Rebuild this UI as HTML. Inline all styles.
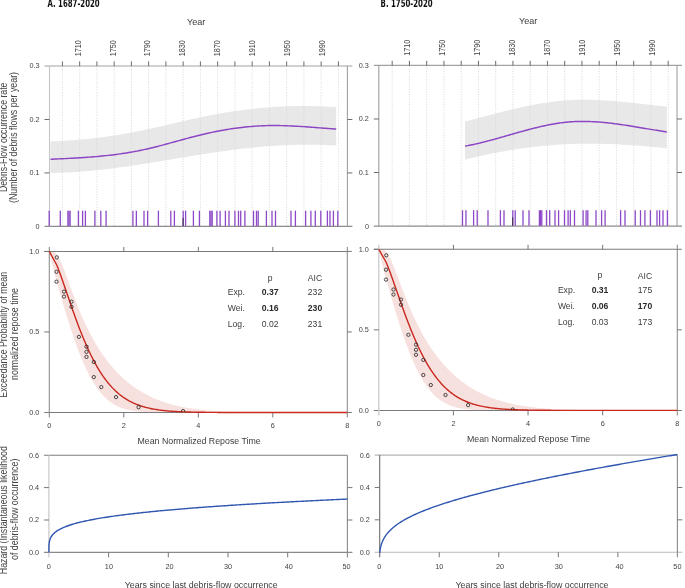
<!DOCTYPE html>
<html><head><meta charset="utf-8"><style>
html,body{margin:0;padding:0;background:#fff;}
body{width:685px;height:588px;overflow:hidden;}
svg{display:block;}
</style></head><body>
<svg width="685" height="588" viewBox="0 0 685 588" font-family='"Liberation Sans", Arial, Helvetica, sans-serif' fill="#3c3c3c">
<rect width="685" height="588" fill="#fff"/>
<text x="47.5" y="6.9" font-size="9.6" fill="#111" font-weight="bold" textLength="52.2" lengthAdjust="spacingAndGlyphs" font-family='"DejaVu Sans", "Liberation Sans", sans-serif' font-stretch="condensed">A. 1687-2020</text>
<text x="380.6" y="6.9" font-size="9.6" fill="#111" font-weight="bold" textLength="52" lengthAdjust="spacingAndGlyphs" font-family='"DejaVu Sans", "Liberation Sans", sans-serif' font-stretch="condensed">B. 1750-2020</text>
<text x="196.2" y="24.9" font-size="9.6" text-anchor="middle" textLength="18.3" lengthAdjust="spacingAndGlyphs" >Year</text>
<text x="528.1" y="24.1" font-size="9.6" text-anchor="middle" textLength="18.2" lengthAdjust="spacingAndGlyphs" >Year</text>
<path d="M50.5,141.44 L52.56,141.37 L54.61,141.29 L56.67,141.2 L58.72,141.1 L60.78,141 L62.83,140.89 L64.89,140.77 L66.94,140.64 L69,140.5 L71.05,140.35 L73.11,140.2 L75.16,140.04 L77.22,139.87 L79.28,139.69 L81.33,139.5 L83.39,139.31 L85.44,139.1 L87.5,138.89 L89.55,138.67 L91.61,138.44 L93.66,138.21 L95.72,137.96 L97.77,137.71 L99.83,137.45 L101.88,137.18 L103.94,136.91 L106,136.63 L108.05,136.33 L110.11,136.04 L112.16,135.73 L114.22,135.41 L116.27,135.09 L118.33,134.76 L120.38,134.43 L122.44,134.08 L124.49,133.73 L126.55,133.37 L128.61,133 L130.66,132.62 L132.72,132.24 L134.77,131.85 L136.83,131.45 L138.88,131.05 L140.94,130.64 L142.99,130.22 L145.05,129.79 L147.1,129.36 L149.16,128.92 L151.21,128.47 L153.27,128.02 L155.33,127.56 L157.38,127.1 L159.44,126.63 L161.49,126.16 L163.55,125.69 L165.6,125.22 L167.66,124.74 L169.71,124.27 L171.77,123.79 L173.82,123.31 L175.88,122.83 L177.93,122.35 L179.99,121.87 L182.05,121.4 L184.1,120.92 L186.16,120.45 L188.21,119.98 L190.27,119.52 L192.32,119.06 L194.38,118.6 L196.43,118.15 L198.49,117.71 L200.54,117.27 L202.6,116.84 L204.65,116.41 L206.71,115.99 L208.77,115.58 L210.82,115.18 L212.88,114.79 L214.93,114.4 L216.99,114.03 L219.04,113.66 L221.1,113.3 L223.15,112.95 L225.21,112.6 L227.26,112.27 L229.32,111.94 L231.37,111.62 L233.43,111.31 L235.49,111.01 L237.54,110.72 L239.6,110.44 L241.65,110.16 L243.71,109.89 L245.76,109.64 L247.82,109.39 L249.87,109.15 L251.93,108.91 L253.98,108.69 L256.04,108.48 L258.09,108.27 L260.15,108.07 L262.21,107.89 L264.26,107.71 L266.32,107.54 L268.37,107.38 L270.43,107.22 L272.48,107.08 L274.54,106.95 L276.59,106.82 L278.65,106.7 L280.7,106.6 L282.76,106.5 L284.82,106.41 L286.87,106.33 L288.93,106.26 L290.98,106.2 L293.04,106.15 L295.09,106.1 L297.15,106.07 L299.2,106.05 L301.26,106.03 L303.31,106.03 L305.37,106.03 L307.42,106.05 L309.48,106.07 L311.54,106.1 L313.59,106.14 L315.65,106.2 L317.7,106.26 L319.76,106.33 L321.81,106.41 L323.87,106.5 L325.92,106.6 L327.98,106.71 L330.03,106.83 L332.09,106.96 L334.14,107.1 L336.2,107.25 L336.2,145.62 L334.14,145.49 L332.09,145.36 L330.03,145.25 L327.98,145.15 L325.92,145.05 L323.87,144.97 L321.81,144.9 L319.76,144.83 L317.7,144.78 L315.65,144.74 L313.59,144.7 L311.54,144.68 L309.48,144.67 L307.42,144.66 L305.37,144.66 L303.31,144.68 L301.26,144.7 L299.2,144.73 L297.15,144.77 L295.09,144.82 L293.04,144.88 L290.98,144.94 L288.93,145.02 L286.87,145.1 L284.82,145.19 L282.76,145.29 L280.7,145.4 L278.65,145.51 L276.59,145.63 L274.54,145.77 L272.48,145.9 L270.43,146.05 L268.37,146.2 L266.32,146.37 L264.26,146.54 L262.21,146.71 L260.15,146.89 L258.09,147.08 L256.04,147.28 L253.98,147.48 L251.93,147.69 L249.87,147.91 L247.82,148.13 L245.76,148.36 L243.71,148.6 L241.65,148.83 L239.6,149.08 L237.54,149.33 L235.49,149.59 L233.43,149.85 L231.37,150.11 L229.32,150.39 L227.26,150.66 L225.21,150.94 L223.15,151.23 L221.1,151.51 L219.04,151.81 L216.99,152.1 L214.93,152.4 L212.88,152.71 L210.82,153.02 L208.77,153.33 L206.71,153.64 L204.65,153.96 L202.6,154.28 L200.54,154.6 L198.49,154.93 L196.43,155.25 L194.38,155.58 L192.32,155.91 L190.27,156.25 L188.21,156.58 L186.16,156.92 L184.1,157.26 L182.05,157.6 L179.99,157.94 L177.93,158.28 L175.88,158.62 L173.82,158.96 L171.77,159.3 L169.71,159.64 L167.66,159.98 L165.6,160.32 L163.55,160.66 L161.49,161 L159.44,161.34 L157.38,161.68 L155.33,162.02 L153.27,162.35 L151.21,162.68 L149.16,163.01 L147.1,163.34 L145.05,163.67 L142.99,163.99 L140.94,164.31 L138.88,164.63 L136.83,164.95 L134.77,165.26 L132.72,165.57 L130.66,165.87 L128.61,166.17 L126.55,166.47 L124.49,166.76 L122.44,167.05 L120.38,167.34 L118.33,167.61 L116.27,167.89 L114.22,168.16 L112.16,168.42 L110.11,168.68 L108.05,168.93 L106,169.18 L103.94,169.42 L101.88,169.66 L99.83,169.88 L97.77,170.11 L95.72,170.32 L93.66,170.53 L91.61,170.73 L89.55,170.92 L87.5,171.11 L85.44,171.29 L83.39,171.45 L81.33,171.62 L79.28,171.77 L77.22,171.92 L75.16,172.05 L73.11,172.18 L71.05,172.3 L69,172.41 L66.94,172.51 L64.89,172.6 L62.83,172.68 L60.78,172.75 L58.72,172.81 L56.67,172.86 L54.61,172.9 L52.56,172.93 L50.5,172.94 Z" fill="#e8e8e8"/>
<line x1="62.4" y1="66.5" x2="62.4" y2="226.4" stroke="#d6d6d6" stroke-width="0.9" stroke-dasharray="1.1 1.45"/>
<line x1="79.65" y1="66.5" x2="79.65" y2="226.4" stroke="#d6d6d6" stroke-width="0.9" stroke-dasharray="1.1 1.45"/>
<line x1="96.9" y1="66.5" x2="96.9" y2="226.4" stroke="#d6d6d6" stroke-width="0.9" stroke-dasharray="1.1 1.45"/>
<line x1="114.15" y1="66.5" x2="114.15" y2="226.4" stroke="#d6d6d6" stroke-width="0.9" stroke-dasharray="1.1 1.45"/>
<line x1="131.4" y1="66.5" x2="131.4" y2="226.4" stroke="#d6d6d6" stroke-width="0.9" stroke-dasharray="1.1 1.45"/>
<line x1="148.65" y1="66.5" x2="148.65" y2="226.4" stroke="#d6d6d6" stroke-width="0.9" stroke-dasharray="1.1 1.45"/>
<line x1="165.9" y1="66.5" x2="165.9" y2="226.4" stroke="#d6d6d6" stroke-width="0.9" stroke-dasharray="1.1 1.45"/>
<line x1="183.15" y1="66.5" x2="183.15" y2="226.4" stroke="#d6d6d6" stroke-width="0.9" stroke-dasharray="1.1 1.45"/>
<line x1="200.4" y1="66.5" x2="200.4" y2="226.4" stroke="#d6d6d6" stroke-width="0.9" stroke-dasharray="1.1 1.45"/>
<line x1="217.65" y1="66.5" x2="217.65" y2="226.4" stroke="#d6d6d6" stroke-width="0.9" stroke-dasharray="1.1 1.45"/>
<line x1="234.9" y1="66.5" x2="234.9" y2="226.4" stroke="#d6d6d6" stroke-width="0.9" stroke-dasharray="1.1 1.45"/>
<line x1="252.15" y1="66.5" x2="252.15" y2="226.4" stroke="#d6d6d6" stroke-width="0.9" stroke-dasharray="1.1 1.45"/>
<line x1="269.4" y1="66.5" x2="269.4" y2="226.4" stroke="#d6d6d6" stroke-width="0.9" stroke-dasharray="1.1 1.45"/>
<line x1="286.65" y1="66.5" x2="286.65" y2="226.4" stroke="#d6d6d6" stroke-width="0.9" stroke-dasharray="1.1 1.45"/>
<line x1="303.9" y1="66.5" x2="303.9" y2="226.4" stroke="#d6d6d6" stroke-width="0.9" stroke-dasharray="1.1 1.45"/>
<line x1="321.15" y1="66.5" x2="321.15" y2="226.4" stroke="#d6d6d6" stroke-width="0.9" stroke-dasharray="1.1 1.45"/>
<line x1="338.4" y1="66.5" x2="338.4" y2="226.4" stroke="#d6d6d6" stroke-width="0.9" stroke-dasharray="1.1 1.45"/>
<path d="M50.5,159.28 L52.56,159.18 L54.61,159.09 L56.67,159 L58.72,158.9 L60.78,158.81 L62.83,158.71 L64.89,158.61 L66.94,158.51 L69,158.4 L71.05,158.29 L73.11,158.18 L75.16,158.06 L77.22,157.94 L79.28,157.82 L81.33,157.69 L83.39,157.55 L85.44,157.41 L87.5,157.27 L89.55,157.11 L91.61,156.95 L93.66,156.79 L95.72,156.61 L97.77,156.43 L99.83,156.24 L101.88,156.05 L103.94,155.84 L106,155.63 L108.05,155.4 L110.11,155.17 L112.16,154.93 L114.22,154.67 L116.27,154.41 L118.33,154.13 L120.38,153.85 L122.44,153.55 L124.49,153.24 L126.55,152.92 L128.61,152.58 L130.66,152.23 L132.72,151.87 L134.77,151.5 L136.83,151.11 L138.88,150.71 L140.94,150.29 L142.99,149.86 L145.05,149.41 L147.1,148.95 L149.16,148.47 L151.21,147.98 L153.27,147.48 L155.33,146.97 L157.38,146.45 L159.44,145.92 L161.49,145.38 L163.55,144.83 L165.6,144.28 L167.66,143.72 L169.71,143.16 L171.77,142.6 L173.82,142.03 L175.88,141.47 L177.93,140.9 L179.99,140.33 L182.05,139.77 L184.1,139.21 L186.16,138.65 L188.21,138.1 L190.27,137.55 L192.32,137.01 L194.38,136.47 L196.43,135.95 L198.49,135.44 L200.54,134.93 L202.6,134.44 L204.65,133.96 L206.71,133.49 L208.77,133.03 L210.82,132.59 L212.88,132.15 L214.93,131.73 L216.99,131.32 L219.04,130.93 L221.1,130.54 L223.15,130.17 L225.21,129.81 L227.26,129.47 L229.32,129.14 L231.37,128.82 L233.43,128.52 L235.49,128.23 L237.54,127.95 L239.6,127.69 L241.65,127.44 L243.71,127.21 L245.76,126.99 L247.82,126.79 L249.87,126.6 L251.93,126.43 L253.98,126.27 L256.04,126.12 L258.09,125.99 L260.15,125.88 L262.21,125.79 L264.26,125.7 L266.32,125.64 L268.37,125.59 L270.43,125.56 L272.48,125.54 L274.54,125.54 L276.59,125.55 L278.65,125.57 L280.7,125.61 L282.76,125.65 L284.82,125.71 L286.87,125.78 L288.93,125.86 L290.98,125.95 L293.04,126.05 L295.09,126.16 L297.15,126.27 L299.2,126.39 L301.26,126.52 L303.31,126.65 L305.37,126.79 L307.42,126.93 L309.48,127.08 L311.54,127.23 L313.59,127.38 L315.65,127.53 L317.7,127.69 L319.76,127.85 L321.81,128 L323.87,128.16 L325.92,128.32 L327.98,128.47 L330.03,128.62 L332.09,128.77 L334.14,128.91 L336.2,129.06" fill="none" stroke="#8b44c3" stroke-width="1.45"/>
<line x1="44.5" y1="66" x2="352.4" y2="66" stroke="#a2a2a2" stroke-width="1.1" />
<line x1="44.5" y1="226.4" x2="352.4" y2="226.4" stroke="#8c8c8c" stroke-width="1.1" />
<line x1="49.5" y1="66" x2="49.5" y2="226.4" stroke="#c6c6c6" stroke-width="1.1" />
<line x1="347.4" y1="66" x2="347.4" y2="226.4" stroke="#a0a0a0" stroke-width="1.1" />
<line x1="44.5" y1="172.93" x2="49.5" y2="172.93" stroke="#6a6a6a" stroke-width="1" />
<line x1="347.4" y1="172.93" x2="352.4" y2="172.93" stroke="#6a6a6a" stroke-width="1" />
<line x1="44.5" y1="119.47" x2="49.5" y2="119.47" stroke="#6a6a6a" stroke-width="1" />
<line x1="347.4" y1="119.47" x2="352.4" y2="119.47" stroke="#6a6a6a" stroke-width="1" />
<line x1="62.4" y1="61.4" x2="62.4" y2="66" stroke="#6a6a6a" stroke-width="1" />
<line x1="79.65" y1="61.4" x2="79.65" y2="66" stroke="#6a6a6a" stroke-width="1" />
<line x1="96.9" y1="61.4" x2="96.9" y2="66" stroke="#6a6a6a" stroke-width="1" />
<line x1="114.15" y1="61.4" x2="114.15" y2="66" stroke="#6a6a6a" stroke-width="1" />
<line x1="131.4" y1="61.4" x2="131.4" y2="66" stroke="#6a6a6a" stroke-width="1" />
<line x1="148.65" y1="61.4" x2="148.65" y2="66" stroke="#6a6a6a" stroke-width="1" />
<line x1="165.9" y1="61.4" x2="165.9" y2="66" stroke="#6a6a6a" stroke-width="1" />
<line x1="183.15" y1="61.4" x2="183.15" y2="66" stroke="#6a6a6a" stroke-width="1" />
<line x1="200.4" y1="61.4" x2="200.4" y2="66" stroke="#6a6a6a" stroke-width="1" />
<line x1="217.65" y1="61.4" x2="217.65" y2="66" stroke="#6a6a6a" stroke-width="1" />
<line x1="234.9" y1="61.4" x2="234.9" y2="66" stroke="#6a6a6a" stroke-width="1" />
<line x1="252.15" y1="61.4" x2="252.15" y2="66" stroke="#6a6a6a" stroke-width="1" />
<line x1="269.4" y1="61.4" x2="269.4" y2="66" stroke="#6a6a6a" stroke-width="1" />
<line x1="286.65" y1="61.4" x2="286.65" y2="66" stroke="#6a6a6a" stroke-width="1" />
<line x1="303.9" y1="61.4" x2="303.9" y2="66" stroke="#6a6a6a" stroke-width="1" />
<line x1="321.15" y1="61.4" x2="321.15" y2="66" stroke="#6a6a6a" stroke-width="1" />
<line x1="338.4" y1="61.4" x2="338.4" y2="66" stroke="#6a6a6a" stroke-width="1" />
<line x1="49.2" y1="210.7" x2="49.2" y2="226.1" stroke="#8c48c6" stroke-width="1.3" />
<line x1="60.3" y1="210.7" x2="60.3" y2="226.1" stroke="#8c48c6" stroke-width="1.3" />
<line x1="67.9" y1="210.7" x2="67.9" y2="226.1" stroke="#8c48c6" stroke-width="1.3" />
<line x1="69" y1="210.7" x2="69" y2="226.1" stroke="#8c48c6" stroke-width="1.3" />
<line x1="70.1" y1="210.7" x2="70.1" y2="226.1" stroke="#8c48c6" stroke-width="1.3" />
<line x1="78.4" y1="210.7" x2="78.4" y2="226.1" stroke="#8c48c6" stroke-width="1.3" />
<line x1="82.6" y1="210.7" x2="82.6" y2="226.1" stroke="#8c48c6" stroke-width="1.3" />
<line x1="85.4" y1="210.7" x2="85.4" y2="226.1" stroke="#8c48c6" stroke-width="1.3" />
<line x1="94.9" y1="210.7" x2="94.9" y2="226.1" stroke="#8c48c6" stroke-width="1.3" />
<line x1="100.8" y1="210.7" x2="100.8" y2="226.1" stroke="#8c48c6" stroke-width="1.3" />
<line x1="106.1" y1="210.7" x2="106.1" y2="226.1" stroke="#8c48c6" stroke-width="1.3" />
<line x1="132.9" y1="210.7" x2="132.9" y2="226.1" stroke="#8c48c6" stroke-width="1.3" />
<line x1="136.35" y1="210.7" x2="136.35" y2="226.1" stroke="#8c48c6" stroke-width="1.3" />
<line x1="144" y1="210.7" x2="144" y2="226.1" stroke="#8c48c6" stroke-width="1.3" />
<line x1="147.6" y1="210.7" x2="147.6" y2="226.1" stroke="#8c48c6" stroke-width="1.3" />
<line x1="158.4" y1="210.7" x2="158.4" y2="226.1" stroke="#8c48c6" stroke-width="1.3" />
<line x1="170.8" y1="210.7" x2="170.8" y2="226.1" stroke="#8c48c6" stroke-width="1.3" />
<line x1="174.4" y1="210.7" x2="174.4" y2="226.1" stroke="#8c48c6" stroke-width="1.3" />
<line x1="183.2" y1="210.7" x2="183.2" y2="226.1" stroke="#8c48c6" stroke-width="1.3" />
<line x1="185.6" y1="210.7" x2="185.6" y2="226.1" stroke="#8c48c6" stroke-width="1.3" />
<line x1="193.4" y1="210.7" x2="193.4" y2="226.1" stroke="#8c48c6" stroke-width="1.3" />
<line x1="199.4" y1="210.7" x2="199.4" y2="226.1" stroke="#8c48c6" stroke-width="1.3" />
<line x1="209.8" y1="210.7" x2="209.8" y2="226.1" stroke="#8c48c6" stroke-width="1.3" />
<line x1="211" y1="210.7" x2="211" y2="226.1" stroke="#8c48c6" stroke-width="1.3" />
<line x1="212.2" y1="210.7" x2="212.2" y2="226.1" stroke="#8c48c6" stroke-width="1.3" />
<line x1="216.9" y1="210.7" x2="216.9" y2="226.1" stroke="#8c48c6" stroke-width="1.3" />
<line x1="220.1" y1="210.7" x2="220.1" y2="226.1" stroke="#8c48c6" stroke-width="1.3" />
<line x1="225.4" y1="210.7" x2="225.4" y2="226.1" stroke="#8c48c6" stroke-width="1.3" />
<line x1="229" y1="210.7" x2="229" y2="226.1" stroke="#8c48c6" stroke-width="1.3" />
<line x1="234.9" y1="210.7" x2="234.9" y2="226.1" stroke="#8c48c6" stroke-width="1.3" />
<line x1="238.5" y1="210.7" x2="238.5" y2="226.1" stroke="#8c48c6" stroke-width="1.3" />
<line x1="240.7" y1="210.7" x2="240.7" y2="226.1" stroke="#8c48c6" stroke-width="1.3" />
<line x1="244.9" y1="210.7" x2="244.9" y2="226.1" stroke="#8c48c6" stroke-width="1.3" />
<line x1="253.5" y1="210.7" x2="253.5" y2="226.1" stroke="#8c48c6" stroke-width="1.3" />
<line x1="256.5" y1="210.7" x2="256.5" y2="226.1" stroke="#8c48c6" stroke-width="1.3" />
<line x1="258.2" y1="210.7" x2="258.2" y2="226.1" stroke="#8c48c6" stroke-width="1.3" />
<line x1="266.4" y1="210.7" x2="266.4" y2="226.1" stroke="#8c48c6" stroke-width="1.3" />
<line x1="272" y1="210.7" x2="272" y2="226.1" stroke="#8c48c6" stroke-width="1.3" />
<line x1="275.5" y1="210.7" x2="275.5" y2="226.1" stroke="#8c48c6" stroke-width="1.3" />
<line x1="291" y1="210.7" x2="291" y2="226.1" stroke="#8c48c6" stroke-width="1.3" />
<line x1="295.4" y1="210.7" x2="295.4" y2="226.1" stroke="#8c48c6" stroke-width="1.3" />
<line x1="305.6" y1="210.7" x2="305.6" y2="226.1" stroke="#8c48c6" stroke-width="1.3" />
<line x1="310.9" y1="210.7" x2="310.9" y2="226.1" stroke="#8c48c6" stroke-width="1.3" />
<line x1="315.3" y1="210.7" x2="315.3" y2="226.1" stroke="#8c48c6" stroke-width="1.3" />
<line x1="320.8" y1="210.7" x2="320.8" y2="226.1" stroke="#8c48c6" stroke-width="1.3" />
<line x1="327.4" y1="210.7" x2="327.4" y2="226.1" stroke="#8c48c6" stroke-width="1.3" />
<line x1="330" y1="210.7" x2="330" y2="226.1" stroke="#8c48c6" stroke-width="1.3" />
<line x1="333.4" y1="210.7" x2="333.4" y2="226.1" stroke="#8c48c6" stroke-width="1.3" />
<line x1="337.8" y1="210.7" x2="337.8" y2="226.1" stroke="#8c48c6" stroke-width="1.3" />
<line x1="183.1" y1="218" x2="183.1" y2="226.1" stroke="#4a3a5c" stroke-width="1.2" />
<text x="80.7" y="56.2" font-size="8.3" fill="#444" textLength="16" lengthAdjust="spacingAndGlyphs" transform="rotate(-90 80.7 56.2)" >1710</text>
<text x="115.59" y="56.2" font-size="8.3" fill="#444" textLength="16" lengthAdjust="spacingAndGlyphs" transform="rotate(-90 115.59 56.2)" >1750</text>
<text x="150.48" y="56.2" font-size="8.3" fill="#444" textLength="16" lengthAdjust="spacingAndGlyphs" transform="rotate(-90 150.48 56.2)" >1790</text>
<text x="185.38" y="56.2" font-size="8.3" fill="#444" textLength="16" lengthAdjust="spacingAndGlyphs" transform="rotate(-90 185.38 56.2)" >1830</text>
<text x="220.27" y="56.2" font-size="8.3" fill="#444" textLength="16" lengthAdjust="spacingAndGlyphs" transform="rotate(-90 220.27 56.2)" >1870</text>
<text x="255.16" y="56.2" font-size="8.3" fill="#444" textLength="16" lengthAdjust="spacingAndGlyphs" transform="rotate(-90 255.16 56.2)" >1910</text>
<text x="290.05" y="56.2" font-size="8.3" fill="#444" textLength="16" lengthAdjust="spacingAndGlyphs" transform="rotate(-90 290.05 56.2)" >1950</text>
<text x="324.94" y="56.2" font-size="8.3" fill="#444" textLength="16" lengthAdjust="spacingAndGlyphs" transform="rotate(-90 324.94 56.2)" >1990</text>
<text x="39.6" y="68.4" font-size="7.9" text-anchor="end" fill="#444" textLength="10.1" lengthAdjust="spacingAndGlyphs" >0.3</text>
<text x="39.6" y="121.87" font-size="7.9" text-anchor="end" fill="#444" textLength="10.1" lengthAdjust="spacingAndGlyphs" >0.2</text>
<text x="39.6" y="175.33" font-size="7.9" text-anchor="end" fill="#444" textLength="10.1" lengthAdjust="spacingAndGlyphs" >0.1</text>
<text x="39.6" y="228.8" font-size="7.9" text-anchor="end" fill="#444" textLength="4" lengthAdjust="spacingAndGlyphs" >0</text>
<path d="M465,121.57 L466.45,121.2 L467.9,120.82 L469.36,120.44 L470.81,120.06 L472.26,119.68 L473.71,119.3 L475.16,118.91 L476.61,118.53 L478.07,118.15 L479.52,117.77 L480.97,117.38 L482.42,117 L483.87,116.62 L485.33,116.23 L486.78,115.85 L488.23,115.47 L489.68,115.09 L491.13,114.71 L492.58,114.33 L494.04,113.96 L495.49,113.58 L496.94,113.21 L498.39,112.84 L499.84,112.47 L501.29,112.1 L502.75,111.73 L504.2,111.37 L505.65,111.01 L507.1,110.65 L508.55,110.3 L510.01,109.95 L511.46,109.6 L512.91,109.26 L514.36,108.91 L515.81,108.58 L517.26,108.24 L518.72,107.91 L520.17,107.59 L521.62,107.27 L523.07,106.95 L524.52,106.64 L525.98,106.33 L527.43,106.03 L528.88,105.73 L530.33,105.44 L531.78,105.16 L533.23,104.88 L534.69,104.6 L536.14,104.33 L537.59,104.07 L539.04,103.81 L540.49,103.56 L541.95,103.32 L543.4,103.08 L544.85,102.85 L546.3,102.63 L547.75,102.41 L549.2,102.21 L550.66,102 L552.11,101.81 L553.56,101.63 L555.01,101.45 L556.46,101.28 L557.92,101.12 L559.37,100.96 L560.82,100.82 L562.27,100.68 L563.72,100.56 L565.17,100.44 L566.63,100.33 L568.08,100.23 L569.53,100.14 L570.98,100.06 L572.43,99.99 L573.88,99.93 L575.34,99.87 L576.79,99.83 L578.24,99.79 L579.69,99.76 L581.14,99.75 L582.6,99.73 L584.05,99.73 L585.5,99.73 L586.95,99.74 L588.4,99.76 L589.85,99.79 L591.31,99.82 L592.76,99.86 L594.21,99.9 L595.66,99.96 L597.11,100.01 L598.57,100.08 L600.02,100.15 L601.47,100.22 L602.92,100.31 L604.37,100.39 L605.82,100.48 L607.28,100.58 L608.73,100.68 L610.18,100.79 L611.63,100.9 L613.08,101.01 L614.54,101.13 L615.99,101.25 L617.44,101.38 L618.89,101.51 L620.34,101.64 L621.79,101.78 L623.25,101.92 L624.7,102.06 L626.15,102.2 L627.6,102.35 L629.05,102.5 L630.51,102.65 L631.96,102.8 L633.41,102.96 L634.86,103.12 L636.31,103.27 L637.76,103.43 L639.22,103.59 L640.67,103.76 L642.12,103.92 L643.57,104.08 L645.02,104.24 L646.47,104.41 L647.93,104.57 L649.38,104.73 L650.83,104.89 L652.28,105.06 L653.73,105.22 L655.19,105.38 L656.64,105.54 L658.09,105.7 L659.54,105.85 L660.99,106.01 L662.44,106.16 L663.9,106.31 L665.35,106.46 L666.8,106.61 L666.8,148.22 L665.35,148.07 L663.9,147.92 L662.44,147.78 L660.99,147.63 L659.54,147.49 L658.09,147.35 L656.64,147.21 L655.19,147.07 L653.73,146.94 L652.28,146.8 L650.83,146.67 L649.38,146.54 L647.93,146.42 L646.47,146.29 L645.02,146.17 L643.57,146.05 L642.12,145.94 L640.67,145.82 L639.22,145.71 L637.76,145.6 L636.31,145.5 L634.86,145.39 L633.41,145.29 L631.96,145.19 L630.51,145.1 L629.05,145 L627.6,144.91 L626.15,144.83 L624.7,144.74 L623.25,144.66 L621.79,144.58 L620.34,144.51 L618.89,144.44 L617.44,144.37 L615.99,144.3 L614.54,144.24 L613.08,144.18 L611.63,144.12 L610.18,144.07 L608.73,144.02 L607.28,143.98 L605.82,143.93 L604.37,143.89 L602.92,143.86 L601.47,143.83 L600.02,143.8 L598.57,143.77 L597.11,143.75 L595.66,143.73 L594.21,143.72 L592.76,143.71 L591.31,143.7 L589.85,143.7 L588.4,143.7 L586.95,143.71 L585.5,143.72 L584.05,143.73 L582.6,143.75 L581.14,143.77 L579.69,143.8 L578.24,143.83 L576.79,143.86 L575.34,143.9 L573.88,143.94 L572.43,143.99 L570.98,144.04 L569.53,144.09 L568.08,144.16 L566.63,144.22 L565.17,144.29 L563.72,144.36 L562.27,144.44 L560.82,144.52 L559.37,144.61 L557.92,144.7 L556.46,144.8 L555.01,144.9 L553.56,145 L552.11,145.11 L550.66,145.23 L549.2,145.34 L547.75,145.47 L546.3,145.59 L544.85,145.73 L543.4,145.86 L541.95,146 L540.49,146.15 L539.04,146.3 L537.59,146.45 L536.14,146.61 L534.69,146.77 L533.23,146.94 L531.78,147.11 L530.33,147.28 L528.88,147.46 L527.43,147.65 L525.98,147.83 L524.52,148.03 L523.07,148.22 L521.62,148.43 L520.17,148.63 L518.72,148.84 L517.26,149.06 L515.81,149.27 L514.36,149.5 L512.91,149.72 L511.46,149.96 L510.01,150.19 L508.55,150.43 L507.1,150.68 L505.65,150.93 L504.2,151.18 L502.75,151.44 L501.29,151.7 L499.84,151.97 L498.39,152.24 L496.94,152.51 L495.49,152.79 L494.04,153.07 L492.58,153.36 L491.13,153.65 L489.68,153.95 L488.23,154.25 L486.78,154.55 L485.33,154.86 L483.87,155.17 L482.42,155.49 L480.97,155.81 L479.52,156.14 L478.07,156.47 L476.61,156.8 L475.16,157.14 L473.71,157.48 L472.26,157.83 L470.81,158.18 L469.36,158.53 L467.9,158.89 L466.45,159.26 L465,159.62 Z" fill="#e8e8e8"/>
<line x1="392.2" y1="65.9" x2="392.2" y2="226.1" stroke="#d6d6d6" stroke-width="0.9" stroke-dasharray="1.1 1.45"/>
<line x1="409.45" y1="65.9" x2="409.45" y2="226.1" stroke="#d6d6d6" stroke-width="0.9" stroke-dasharray="1.1 1.45"/>
<line x1="426.7" y1="65.9" x2="426.7" y2="226.1" stroke="#d6d6d6" stroke-width="0.9" stroke-dasharray="1.1 1.45"/>
<line x1="443.95" y1="65.9" x2="443.95" y2="226.1" stroke="#d6d6d6" stroke-width="0.9" stroke-dasharray="1.1 1.45"/>
<line x1="461.2" y1="65.9" x2="461.2" y2="226.1" stroke="#d6d6d6" stroke-width="0.9" stroke-dasharray="1.1 1.45"/>
<line x1="478.45" y1="65.9" x2="478.45" y2="226.1" stroke="#d6d6d6" stroke-width="0.9" stroke-dasharray="1.1 1.45"/>
<line x1="495.7" y1="65.9" x2="495.7" y2="226.1" stroke="#d6d6d6" stroke-width="0.9" stroke-dasharray="1.1 1.45"/>
<line x1="512.95" y1="65.9" x2="512.95" y2="226.1" stroke="#d6d6d6" stroke-width="0.9" stroke-dasharray="1.1 1.45"/>
<line x1="530.2" y1="65.9" x2="530.2" y2="226.1" stroke="#d6d6d6" stroke-width="0.9" stroke-dasharray="1.1 1.45"/>
<line x1="547.45" y1="65.9" x2="547.45" y2="226.1" stroke="#d6d6d6" stroke-width="0.9" stroke-dasharray="1.1 1.45"/>
<line x1="564.7" y1="65.9" x2="564.7" y2="226.1" stroke="#d6d6d6" stroke-width="0.9" stroke-dasharray="1.1 1.45"/>
<line x1="581.95" y1="65.9" x2="581.95" y2="226.1" stroke="#d6d6d6" stroke-width="0.9" stroke-dasharray="1.1 1.45"/>
<line x1="599.2" y1="65.9" x2="599.2" y2="226.1" stroke="#d6d6d6" stroke-width="0.9" stroke-dasharray="1.1 1.45"/>
<line x1="616.45" y1="65.9" x2="616.45" y2="226.1" stroke="#d6d6d6" stroke-width="0.9" stroke-dasharray="1.1 1.45"/>
<line x1="633.7" y1="65.9" x2="633.7" y2="226.1" stroke="#d6d6d6" stroke-width="0.9" stroke-dasharray="1.1 1.45"/>
<line x1="650.95" y1="65.9" x2="650.95" y2="226.1" stroke="#d6d6d6" stroke-width="0.9" stroke-dasharray="1.1 1.45"/>
<line x1="668.2" y1="65.9" x2="668.2" y2="226.1" stroke="#d6d6d6" stroke-width="0.9" stroke-dasharray="1.1 1.45"/>
<path d="M465,146.16 L466.45,145.89 L467.9,145.62 L469.36,145.33 L470.81,145.03 L472.26,144.73 L473.71,144.42 L475.16,144.1 L476.61,143.77 L478.07,143.43 L479.52,143.09 L480.97,142.74 L482.42,142.38 L483.87,142.02 L485.33,141.65 L486.78,141.27 L488.23,140.89 L489.68,140.51 L491.13,140.12 L492.58,139.73 L494.04,139.33 L495.49,138.93 L496.94,138.52 L498.39,138.12 L499.84,137.71 L501.29,137.3 L502.75,136.88 L504.2,136.47 L505.65,136.05 L507.1,135.64 L508.55,135.22 L510.01,134.8 L511.46,134.39 L512.91,133.97 L514.36,133.56 L515.81,133.14 L517.26,132.73 L518.72,132.32 L520.17,131.91 L521.62,131.51 L523.07,131.11 L524.52,130.71 L525.98,130.32 L527.43,129.93 L528.88,129.54 L530.33,129.16 L531.78,128.78 L533.23,128.41 L534.69,128.05 L536.14,127.69 L537.59,127.34 L539.04,126.99 L540.49,126.65 L541.95,126.32 L543.4,126 L544.85,125.68 L546.3,125.38 L547.75,125.08 L549.2,124.79 L550.66,124.52 L552.11,124.25 L553.56,123.99 L555.01,123.74 L556.46,123.5 L557.92,123.28 L559.37,123.07 L560.82,122.86 L562.27,122.68 L563.72,122.5 L565.17,122.34 L566.63,122.18 L568.08,122.05 L569.53,121.93 L570.98,121.82 L572.43,121.72 L573.88,121.64 L575.34,121.57 L576.79,121.52 L578.24,121.47 L579.69,121.44 L581.14,121.42 L582.6,121.42 L584.05,121.42 L585.5,121.44 L586.95,121.46 L588.4,121.5 L589.85,121.55 L591.31,121.6 L592.76,121.67 L594.21,121.75 L595.66,121.84 L597.11,121.93 L598.57,122.04 L600.02,122.15 L601.47,122.27 L602.92,122.4 L604.37,122.53 L605.82,122.68 L607.28,122.83 L608.73,122.99 L610.18,123.15 L611.63,123.33 L613.08,123.5 L614.54,123.69 L615.99,123.87 L617.44,124.07 L618.89,124.27 L620.34,124.47 L621.79,124.68 L623.25,124.89 L624.7,125.11 L626.15,125.33 L627.6,125.56 L629.05,125.78 L630.51,126.01 L631.96,126.24 L633.41,126.48 L634.86,126.72 L636.31,126.96 L637.76,127.2 L639.22,127.44 L640.67,127.68 L642.12,127.92 L643.57,128.17 L645.02,128.41 L646.47,128.66 L647.93,128.9 L649.38,129.15 L650.83,129.39 L652.28,129.63 L653.73,129.87 L655.19,130.11 L656.64,130.34 L658.09,130.58 L659.54,130.81 L660.99,131.04 L662.44,131.27 L663.9,131.49 L665.35,131.71 L666.8,131.92" fill="none" stroke="#8b44c3" stroke-width="1.45"/>
<line x1="373.8" y1="65.4" x2="682" y2="65.4" stroke="#a2a2a2" stroke-width="1.1" />
<line x1="373.8" y1="226.1" x2="682" y2="226.1" stroke="#8c8c8c" stroke-width="1.1" />
<line x1="378.8" y1="65.4" x2="378.8" y2="226.1" stroke="#9c9c9c" stroke-width="1.1" />
<line x1="677" y1="65.4" x2="677" y2="226.1" stroke="#a0a0a0" stroke-width="1.1" />
<line x1="373.8" y1="172.53" x2="378.8" y2="172.53" stroke="#6a6a6a" stroke-width="1" />
<line x1="677" y1="172.53" x2="682" y2="172.53" stroke="#6a6a6a" stroke-width="1" />
<line x1="373.8" y1="118.97" x2="378.8" y2="118.97" stroke="#6a6a6a" stroke-width="1" />
<line x1="677" y1="118.97" x2="682" y2="118.97" stroke="#6a6a6a" stroke-width="1" />
<line x1="392.2" y1="60.8" x2="392.2" y2="65.4" stroke="#6a6a6a" stroke-width="1" />
<line x1="409.45" y1="60.8" x2="409.45" y2="65.4" stroke="#6a6a6a" stroke-width="1" />
<line x1="426.7" y1="60.8" x2="426.7" y2="65.4" stroke="#6a6a6a" stroke-width="1" />
<line x1="443.95" y1="60.8" x2="443.95" y2="65.4" stroke="#6a6a6a" stroke-width="1" />
<line x1="461.2" y1="60.8" x2="461.2" y2="65.4" stroke="#6a6a6a" stroke-width="1" />
<line x1="478.45" y1="60.8" x2="478.45" y2="65.4" stroke="#6a6a6a" stroke-width="1" />
<line x1="495.7" y1="60.8" x2="495.7" y2="65.4" stroke="#6a6a6a" stroke-width="1" />
<line x1="512.95" y1="60.8" x2="512.95" y2="65.4" stroke="#6a6a6a" stroke-width="1" />
<line x1="530.2" y1="60.8" x2="530.2" y2="65.4" stroke="#6a6a6a" stroke-width="1" />
<line x1="547.45" y1="60.8" x2="547.45" y2="65.4" stroke="#6a6a6a" stroke-width="1" />
<line x1="564.7" y1="60.8" x2="564.7" y2="65.4" stroke="#6a6a6a" stroke-width="1" />
<line x1="581.95" y1="60.8" x2="581.95" y2="65.4" stroke="#6a6a6a" stroke-width="1" />
<line x1="599.2" y1="60.8" x2="599.2" y2="65.4" stroke="#6a6a6a" stroke-width="1" />
<line x1="616.45" y1="60.8" x2="616.45" y2="65.4" stroke="#6a6a6a" stroke-width="1" />
<line x1="633.7" y1="60.8" x2="633.7" y2="65.4" stroke="#6a6a6a" stroke-width="1" />
<line x1="650.95" y1="60.8" x2="650.95" y2="65.4" stroke="#6a6a6a" stroke-width="1" />
<line x1="668.2" y1="60.8" x2="668.2" y2="65.4" stroke="#6a6a6a" stroke-width="1" />
<line x1="462.5" y1="210.2" x2="462.5" y2="225.8" stroke="#8c48c6" stroke-width="1.3" />
<line x1="465.95" y1="210.2" x2="465.95" y2="225.8" stroke="#8c48c6" stroke-width="1.3" />
<line x1="473.6" y1="210.2" x2="473.6" y2="225.8" stroke="#8c48c6" stroke-width="1.3" />
<line x1="477.2" y1="210.2" x2="477.2" y2="225.8" stroke="#8c48c6" stroke-width="1.3" />
<line x1="488" y1="210.2" x2="488" y2="225.8" stroke="#8c48c6" stroke-width="1.3" />
<line x1="500.4" y1="210.2" x2="500.4" y2="225.8" stroke="#8c48c6" stroke-width="1.3" />
<line x1="504" y1="210.2" x2="504" y2="225.8" stroke="#8c48c6" stroke-width="1.3" />
<line x1="512.8" y1="210.2" x2="512.8" y2="225.8" stroke="#8c48c6" stroke-width="1.3" />
<line x1="515.2" y1="210.2" x2="515.2" y2="225.8" stroke="#8c48c6" stroke-width="1.3" />
<line x1="523" y1="210.2" x2="523" y2="225.8" stroke="#8c48c6" stroke-width="1.3" />
<line x1="529" y1="210.2" x2="529" y2="225.8" stroke="#8c48c6" stroke-width="1.3" />
<line x1="539.4" y1="210.2" x2="539.4" y2="225.8" stroke="#8c48c6" stroke-width="1.3" />
<line x1="540.6" y1="210.2" x2="540.6" y2="225.8" stroke="#8c48c6" stroke-width="1.3" />
<line x1="541.8" y1="210.2" x2="541.8" y2="225.8" stroke="#8c48c6" stroke-width="1.3" />
<line x1="546.5" y1="210.2" x2="546.5" y2="225.8" stroke="#8c48c6" stroke-width="1.3" />
<line x1="549.7" y1="210.2" x2="549.7" y2="225.8" stroke="#8c48c6" stroke-width="1.3" />
<line x1="555" y1="210.2" x2="555" y2="225.8" stroke="#8c48c6" stroke-width="1.3" />
<line x1="558.6" y1="210.2" x2="558.6" y2="225.8" stroke="#8c48c6" stroke-width="1.3" />
<line x1="564.5" y1="210.2" x2="564.5" y2="225.8" stroke="#8c48c6" stroke-width="1.3" />
<line x1="568.1" y1="210.2" x2="568.1" y2="225.8" stroke="#8c48c6" stroke-width="1.3" />
<line x1="570.3" y1="210.2" x2="570.3" y2="225.8" stroke="#8c48c6" stroke-width="1.3" />
<line x1="574.5" y1="210.2" x2="574.5" y2="225.8" stroke="#8c48c6" stroke-width="1.3" />
<line x1="583.1" y1="210.2" x2="583.1" y2="225.8" stroke="#8c48c6" stroke-width="1.3" />
<line x1="586.1" y1="210.2" x2="586.1" y2="225.8" stroke="#8c48c6" stroke-width="1.3" />
<line x1="587.8" y1="210.2" x2="587.8" y2="225.8" stroke="#8c48c6" stroke-width="1.3" />
<line x1="596" y1="210.2" x2="596" y2="225.8" stroke="#8c48c6" stroke-width="1.3" />
<line x1="601.6" y1="210.2" x2="601.6" y2="225.8" stroke="#8c48c6" stroke-width="1.3" />
<line x1="605.1" y1="210.2" x2="605.1" y2="225.8" stroke="#8c48c6" stroke-width="1.3" />
<line x1="620.6" y1="210.2" x2="620.6" y2="225.8" stroke="#8c48c6" stroke-width="1.3" />
<line x1="625" y1="210.2" x2="625" y2="225.8" stroke="#8c48c6" stroke-width="1.3" />
<line x1="635.2" y1="210.2" x2="635.2" y2="225.8" stroke="#8c48c6" stroke-width="1.3" />
<line x1="640.5" y1="210.2" x2="640.5" y2="225.8" stroke="#8c48c6" stroke-width="1.3" />
<line x1="644.9" y1="210.2" x2="644.9" y2="225.8" stroke="#8c48c6" stroke-width="1.3" />
<line x1="650.4" y1="210.2" x2="650.4" y2="225.8" stroke="#8c48c6" stroke-width="1.3" />
<line x1="657" y1="210.2" x2="657" y2="225.8" stroke="#8c48c6" stroke-width="1.3" />
<line x1="659.6" y1="210.2" x2="659.6" y2="225.8" stroke="#8c48c6" stroke-width="1.3" />
<line x1="663" y1="210.2" x2="663" y2="225.8" stroke="#8c48c6" stroke-width="1.3" />
<line x1="667.4" y1="210.2" x2="667.4" y2="225.8" stroke="#8c48c6" stroke-width="1.3" />
<line x1="512.6" y1="217.2" x2="512.6" y2="225.8" stroke="#4a3a5c" stroke-width="1.2" />
<text x="410.5" y="55.7" font-size="8.3" fill="#444" textLength="16" lengthAdjust="spacingAndGlyphs" transform="rotate(-90 410.5 55.7)" >1710</text>
<text x="445.39" y="55.7" font-size="8.3" fill="#444" textLength="16" lengthAdjust="spacingAndGlyphs" transform="rotate(-90 445.39 55.7)" >1750</text>
<text x="480.28" y="55.7" font-size="8.3" fill="#444" textLength="16" lengthAdjust="spacingAndGlyphs" transform="rotate(-90 480.28 55.7)" >1790</text>
<text x="515.18" y="55.7" font-size="8.3" fill="#444" textLength="16" lengthAdjust="spacingAndGlyphs" transform="rotate(-90 515.18 55.7)" >1830</text>
<text x="550.07" y="55.7" font-size="8.3" fill="#444" textLength="16" lengthAdjust="spacingAndGlyphs" transform="rotate(-90 550.07 55.7)" >1870</text>
<text x="584.96" y="55.7" font-size="8.3" fill="#444" textLength="16" lengthAdjust="spacingAndGlyphs" transform="rotate(-90 584.96 55.7)" >1910</text>
<text x="619.85" y="55.7" font-size="8.3" fill="#444" textLength="16" lengthAdjust="spacingAndGlyphs" transform="rotate(-90 619.85 55.7)" >1950</text>
<text x="654.74" y="55.7" font-size="8.3" fill="#444" textLength="16" lengthAdjust="spacingAndGlyphs" transform="rotate(-90 654.74 55.7)" >1990</text>
<text x="368.9" y="67.8" font-size="7.9" text-anchor="end" fill="#444" textLength="10.1" lengthAdjust="spacingAndGlyphs" >0.3</text>
<text x="368.9" y="121.37" font-size="7.9" text-anchor="end" fill="#444" textLength="10.1" lengthAdjust="spacingAndGlyphs" >0.2</text>
<text x="368.9" y="174.93" font-size="7.9" text-anchor="end" fill="#444" textLength="10.1" lengthAdjust="spacingAndGlyphs" >0.1</text>
<text x="368.9" y="228.5" font-size="7.9" text-anchor="end" fill="#444" textLength="4" lengthAdjust="spacingAndGlyphs" >0</text>
<path d="M49.3,251.4 L49.49,251.4 L49.51,251.4 L49.55,251.4 L49.58,251.4 L49.63,251.4 L49.68,251.4 L49.73,251.4 L49.8,251.4 L49.88,251.4 L49.96,251.4 L50.06,251.4 L50.18,251.4 L50.31,251.4 L50.47,251.4 L50.64,251.4 L50.85,251.4 L51.08,251.4 L51.35,251.41 L51.66,251.42 L52.02,251.44 L52.44,251.48 L52.91,251.57 L53.46,251.72 L54.09,251.99 L54.82,252.43 L55.65,253.14 L56.62,254.21 L57.73,255.78 L59,257.99 L60.47,260.99 L60.85,261.81 L62.16,264.87 L63.46,268.14 L64.77,271.56 L66.08,275.09 L67.39,278.67 L68.7,282.29 L70,285.9 L71.31,289.49 L72.62,293.04 L73.93,296.53 L75.24,299.97 L76.54,303.33 L77.85,306.62 L79.16,309.84 L80.47,312.97 L81.78,316.02 L83.08,318.99 L84.39,321.88 L85.7,324.69 L87.01,327.42 L88.32,330.07 L89.62,332.65 L90.93,335.15 L92.24,337.57 L93.55,339.93 L94.86,342.22 L96.16,344.44 L97.47,346.6 L98.78,348.69 L100.09,350.72 L101.4,352.69 L102.7,354.61 L104.01,356.47 L105.32,358.27 L106.63,360.03 L107.94,361.73 L109.24,363.38 L110.55,364.98 L111.86,366.54 L113.17,368.05 L114.48,369.52 L115.78,370.95 L117.09,372.34 L118.4,373.68 L119.71,374.99 L121.02,376.25 L122.32,377.48 L123.63,378.68 L124.94,379.84 L126.25,380.96 L127.56,382.06 L128.86,383.12 L130.17,384.15 L131.48,385.14 L132.79,386.11 L134.1,387.05 L135.4,387.96 L136.71,388.85 L138.02,389.71 L139.33,390.54 L140.64,391.34 L141.94,392.12 L143.25,392.88 L144.56,393.61 L145.87,394.32 L147.18,395.01 L148.48,395.68 L149.79,396.32 L151.1,396.95 L152.41,397.55 L153.72,398.14 L155.02,398.7 L156.33,399.25 L157.64,399.78 L158.95,400.29 L160.26,400.78 L161.56,401.26 L162.87,401.72 L164.18,402.17 L165.49,402.6 L166.8,403.01 L168.1,403.41 L169.41,403.8 L170.72,404.17 L172.03,404.53 L173.34,404.88 L174.64,405.21 L175.95,405.53 L177.26,405.84 L178.57,406.14 L179.88,406.42 L181.18,406.7 L182.49,406.96 L183.8,407.22 L185.11,407.46 L186.42,407.7 L187.72,407.92 L189.03,408.14 L190.34,408.35 L191.65,408.55 L192.96,408.74 L194.26,408.92 L195.57,409.1 L196.88,409.27 L198.19,409.43 L199.5,409.58 L200.8,409.73 L202.11,409.87 L203.42,410.01 L204.73,410.14 L206.04,410.26 L207.34,410.38 L208.65,410.49 L209.96,410.6 L211.27,410.7 L212.58,410.8 L213.88,410.89 L215.19,410.98 L216.5,411.06 L217.81,411.14 L219.12,411.22 L220.42,411.29 L221.73,411.36 L223.04,411.43 L224.35,411.49 L225.66,411.55 L226.96,411.6 L228.27,411.66 L229.58,411.71 L230.89,411.75 L232.2,411.8 L233.5,411.84 L234.81,411.88 L236.12,411.92 L237.43,411.96 L238.74,411.99 L240.04,412.02 L241.35,412.05 L242.66,412.08 L243.97,412.11 L245.28,412.13 L246.58,412.16 L247.89,412.18 L249.2,412.2 L250.51,412.22 L251.82,412.24 L253.12,412.26 L254.43,412.27 L255.74,412.29 L257.05,412.31 L258.36,412.32 L259.66,412.33 L260.97,412.34 L262.28,412.35 L263.59,412.37 L264.9,412.37 L266.2,412.38 L267.51,412.39 L268.82,412.4 L270.13,412.41 L271.44,412.41 L272.74,412.42 L274.05,412.43 L275.36,412.43 L276.67,412.44 L277.98,412.44 L279.28,412.45 L280.59,412.45 L281.9,412.46 L283.21,412.46 L284.52,412.46 L285.82,412.47 L287.13,412.47 L288.44,412.47 L289.75,412.47 L291.06,412.48 L292.36,412.48 L293.67,412.48 L294.98,412.48 L296.29,412.48 L297.6,412.48 L298.9,412.49 L300.21,412.49 L301.52,412.49 L302.83,412.49 L304.14,412.49 L305.44,412.49 L306.75,412.49 L308.06,412.49 L309.37,412.49 L310.68,412.49 L311.98,412.49 L313.29,412.5 L314.6,412.5 L315.91,412.5 L317.22,412.5 L318.52,412.5 L319.83,412.5 L321.14,412.5 L322.45,412.5 L323.76,412.5 L325.06,412.5 L326.37,412.5 L327.68,412.5 L328.99,412.5 L330.3,412.5 L331.6,412.5 L332.91,412.5 L334.22,412.5 L335.53,412.5 L336.84,412.5 L338.14,412.5 L339.45,412.5 L340.76,412.5 L342.07,412.5 L343.38,412.5 L344.68,412.5 L345.99,412.5 L347.3,412.5 L347.3,412.5 L347.3,412.5 L345.99,412.5 L344.68,412.5 L343.38,412.5 L342.07,412.5 L340.76,412.5 L339.45,412.5 L338.14,412.5 L336.84,412.5 L335.53,412.5 L334.22,412.5 L332.91,412.5 L331.6,412.5 L330.3,412.5 L328.99,412.5 L327.68,412.5 L326.37,412.5 L325.06,412.5 L323.76,412.5 L322.45,412.5 L321.14,412.5 L319.83,412.5 L318.52,412.5 L317.22,412.5 L315.91,412.5 L314.6,412.5 L313.29,412.5 L311.98,412.5 L310.68,412.5 L309.37,412.5 L308.06,412.5 L306.75,412.5 L305.44,412.5 L304.14,412.5 L302.83,412.5 L301.52,412.5 L300.21,412.5 L298.9,412.5 L297.6,412.5 L296.29,412.5 L294.98,412.5 L293.67,412.5 L292.36,412.5 L291.06,412.5 L289.75,412.5 L288.44,412.5 L287.13,412.5 L285.82,412.5 L284.52,412.5 L283.21,412.5 L281.9,412.5 L280.59,412.5 L279.28,412.5 L277.98,412.5 L276.67,412.5 L275.36,412.5 L274.05,412.5 L272.74,412.5 L271.44,412.5 L270.13,412.5 L268.82,412.5 L267.51,412.5 L266.2,412.5 L264.9,412.5 L263.59,412.5 L262.28,412.5 L260.97,412.5 L259.66,412.5 L258.36,412.5 L257.05,412.5 L255.74,412.5 L254.43,412.5 L253.12,412.5 L251.82,412.5 L250.51,412.5 L249.2,412.5 L247.89,412.5 L246.58,412.5 L245.28,412.5 L243.97,412.5 L242.66,412.5 L241.35,412.5 L240.04,412.5 L238.74,412.5 L237.43,412.5 L236.12,412.5 L234.81,412.5 L233.5,412.5 L232.2,412.5 L230.89,412.5 L229.58,412.5 L228.27,412.5 L226.96,412.5 L225.66,412.5 L224.35,412.5 L223.04,412.5 L221.73,412.5 L220.42,412.5 L219.12,412.5 L217.81,412.5 L216.5,412.5 L215.19,412.5 L213.88,412.5 L212.58,412.5 L211.27,412.5 L209.96,412.5 L208.65,412.5 L207.34,412.5 L206.04,412.5 L204.73,412.5 L203.42,412.5 L202.11,412.5 L200.8,412.5 L199.5,412.5 L198.19,412.5 L196.88,412.5 L195.57,412.5 L194.26,412.5 L192.96,412.5 L191.65,412.5 L190.34,412.5 L189.03,412.5 L187.72,412.5 L186.42,412.5 L185.11,412.5 L183.8,412.5 L182.49,412.5 L181.18,412.5 L179.88,412.49 L178.57,412.49 L177.26,412.49 L175.95,412.49 L174.64,412.49 L173.34,412.49 L172.03,412.48 L170.72,412.48 L169.41,412.48 L168.1,412.47 L166.8,412.46 L165.49,412.46 L164.18,412.45 L162.87,412.44 L161.56,412.43 L160.26,412.42 L158.95,412.4 L157.64,412.38 L156.33,412.36 L155.02,412.34 L153.72,412.31 L152.41,412.28 L151.1,412.25 L149.79,412.21 L148.48,412.16 L147.18,412.11 L145.87,412.05 L144.56,411.98 L143.25,411.9 L141.94,411.82 L140.64,411.72 L139.33,411.61 L138.02,411.48 L136.71,411.34 L135.4,411.19 L134.1,411.01 L132.79,410.82 L131.48,410.6 L130.17,410.36 L128.86,410.1 L127.56,409.8 L126.25,409.48 L124.94,409.12 L123.63,408.72 L122.32,408.29 L121.02,407.82 L119.71,407.3 L118.4,406.74 L117.09,406.13 L115.78,405.46 L114.48,404.74 L113.17,403.95 L111.86,403.11 L110.55,402.19 L109.24,401.21 L107.94,400.16 L106.63,399.02 L105.32,397.81 L104.01,396.51 L102.7,395.13 L101.4,393.66 L100.09,392.09 L98.78,390.43 L97.47,388.67 L96.16,386.8 L94.86,384.84 L93.55,382.76 L92.24,380.58 L90.93,378.29 L89.62,375.89 L88.32,373.37 L87.01,370.74 L85.7,368 L84.39,365.15 L83.08,362.18 L81.78,359.09 L80.47,355.9 L79.16,352.59 L77.85,349.18 L76.54,345.66 L75.24,342.04 L73.93,338.31 L72.62,334.48 L71.31,330.56 L70,326.55 L68.7,322.45 L67.39,318.27 L66.08,314.01 L64.77,309.67 L63.46,305.26 L62.16,300.78 L60.85,296.24 L60.47,294.93 L59,289.71 L57.73,285.11 L56.62,281.05 L55.65,277.47 L54.82,274.31 L54.09,271.52 L53.46,269.05 L52.91,266.87 L52.44,264.93 L52.02,263.22 L51.66,261.7 L51.35,260.35 L51.08,259.16 L50.85,258.1 L50.64,257.17 L50.47,256.34 L50.31,255.62 L50.18,254.98 L50.06,254.42 L49.96,253.93 L49.88,253.51 L49.8,253.15 L49.73,252.84 L49.68,252.57 L49.63,252.35 L49.58,252.16 L49.55,252.01 L49.51,251.88 L49.49,251.77 Z" fill="#f7e1df"/>
<line x1="44.3" y1="251.4" x2="347.3" y2="251.4" stroke="#7a7a7a" stroke-width="1.05" />
<line x1="44.3" y1="412.5" x2="351.8" y2="412.5" stroke="#7a7a7a" stroke-width="1.05" />
<line x1="49.3" y1="246.9" x2="49.3" y2="417.5" stroke="#8a8a8a" stroke-width="1.05" />
<line x1="347.3" y1="246.9" x2="347.3" y2="417.5" stroke="#8a8a8a" stroke-width="1.05" />
<line x1="44.3" y1="331.95" x2="49.3" y2="331.95" stroke="#777" stroke-width="1" />
<line x1="347.3" y1="331.95" x2="351.8" y2="331.95" stroke="#777" stroke-width="1" />
<line x1="44.3" y1="251.4" x2="49.3" y2="251.4" stroke="#777" stroke-width="1" />
<line x1="347.3" y1="251.4" x2="351.8" y2="251.4" stroke="#777" stroke-width="1" />
<line x1="123.8" y1="246.9" x2="123.8" y2="251.4" stroke="#777" stroke-width="1" />
<line x1="123.8" y1="412.5" x2="123.8" y2="417.5" stroke="#777" stroke-width="1" />
<line x1="198.3" y1="246.9" x2="198.3" y2="251.4" stroke="#777" stroke-width="1" />
<line x1="198.3" y1="412.5" x2="198.3" y2="417.5" stroke="#777" stroke-width="1" />
<line x1="272.8" y1="246.9" x2="272.8" y2="251.4" stroke="#777" stroke-width="1" />
<line x1="272.8" y1="412.5" x2="272.8" y2="417.5" stroke="#777" stroke-width="1" />
<path d="M49.3,251.4 L56.75,264.93 L58.61,269.73 L59.82,272.99 L61.03,276.33 L62.24,279.74 L63.44,283.2 L64.65,286.7 L65.86,290.21 L67.07,293.74 L68.28,297.27 L69.48,300.78 L70.69,304.28 L71.9,307.75 L73.11,311.18 L74.32,314.58 L75.52,317.93 L76.73,321.22 L77.94,324.47 L79.15,327.65 L80.35,330.78 L81.56,333.84 L82.77,336.83 L83.98,339.75 L85.19,342.6 L86.39,345.38 L87.6,348.09 L88.81,350.72 L90.02,353.27 L91.23,355.76 L92.43,358.16 L93.64,360.49 L94.85,362.75 L96.06,364.94 L97.27,367.05 L98.47,369.09 L99.68,371.06 L100.89,372.96 L102.1,374.79 L103.3,376.55 L104.51,378.24 L105.72,379.87 L106.93,381.44 L108.14,382.94 L109.34,384.39 L110.55,385.77 L111.76,387.1 L112.97,388.38 L114.18,389.59 L115.38,390.76 L116.59,391.88 L117.8,392.94 L119.01,393.96 L120.22,394.93 L121.42,395.86 L122.63,396.75 L123.84,397.59 L125.05,398.4 L126.25,399.16 L127.46,399.89 L128.67,400.58 L129.88,401.24 L131.09,401.87 L132.29,402.47 L133.5,403.03 L134.71,403.57 L135.92,404.08 L137.13,404.56 L138.33,405.02 L139.54,405.46 L140.75,405.87 L141.96,406.26 L143.17,406.63 L144.37,406.98 L145.58,407.31 L146.79,407.62 L148,407.91 L149.2,408.19 L150.41,408.45 L151.62,408.7 L152.83,408.94 L154.04,409.16 L155.24,409.36 L156.45,409.56 L157.66,409.74 L158.87,409.92 L160.08,410.08 L161.28,410.24 L162.49,410.38 L163.7,410.52 L164.91,410.64 L166.12,410.76 L167.32,410.88 L168.53,410.98 L169.74,411.08 L170.95,411.18 L172.15,411.26 L173.36,411.35 L174.57,411.42 L175.78,411.5 L176.99,411.56 L178.19,411.63 L179.4,411.69 L180.61,411.74 L181.82,411.79 L183.03,411.84 L184.23,411.89 L185.44,411.93 L186.65,411.97 L187.86,412.01 L189.07,412.04 L190.27,412.07 L191.48,412.1 L192.69,412.13 L193.9,412.16 L195.1,412.18 L196.31,412.2 L197.52,412.23 L198.73,412.24 L199.94,412.26 L201.14,412.28 L202.35,412.3 L203.56,412.31 L204.77,412.32 L205.98,412.34 L207.18,412.35 L208.39,412.36 L209.6,412.37 L210.81,412.38 L212.02,412.39 L213.22,412.4 L214.43,412.41 L215.64,412.41 L216.85,412.42 L218.05,412.43 L219.26,412.43 L220.47,412.44 L221.68,412.44 L222.89,412.45 L224.09,412.45 L225.3,412.45 L226.51,412.46 L227.72,412.46 L228.93,412.46 L230.13,412.47 L231.34,412.47 L232.55,412.47 L233.76,412.47 L234.97,412.48 L236.17,412.48 L237.38,412.48 L238.59,412.48 L239.8,412.48 L241.01,412.48 L242.21,412.49 L243.42,412.49 L244.63,412.49 L245.84,412.49 L247.04,412.49 L248.25,412.49 L249.46,412.49 L250.67,412.49 L251.88,412.49 L253.08,412.49 L254.29,412.49 L255.5,412.49 L256.71,412.49 L257.92,412.5 L259.12,412.5 L260.33,412.5 L261.54,412.5 L262.75,412.5 L263.96,412.5 L265.16,412.5 L266.37,412.5 L267.58,412.5 L268.79,412.5 L269.99,412.5 L271.2,412.5 L272.41,412.5 L273.62,412.5 L274.83,412.5 L276.03,412.5 L277.24,412.5 L278.45,412.5 L279.66,412.5 L280.87,412.5 L282.07,412.5 L283.28,412.5 L284.49,412.5 L285.7,412.5 L286.91,412.5 L288.11,412.5 L289.32,412.5 L290.53,412.5 L291.74,412.5 L292.94,412.5 L294.15,412.5 L295.36,412.5 L296.57,412.5 L297.78,412.5 L298.98,412.5 L300.19,412.5 L301.4,412.5 L302.61,412.5 L303.82,412.5 L305.02,412.5 L306.23,412.5 L307.44,412.5 L308.65,412.5 L309.86,412.5 L311.06,412.5 L312.27,412.5 L313.48,412.5 L314.69,412.5 L315.89,412.5 L317.1,412.5 L318.31,412.5 L319.52,412.5 L320.73,412.5 L321.93,412.5 L323.14,412.5 L324.35,412.5 L325.56,412.5 L326.77,412.5 L327.97,412.5 L329.18,412.5 L330.39,412.5 L331.6,412.5 L332.81,412.5 L334.01,412.5 L335.22,412.5 L336.43,412.5 L337.64,412.5 L338.84,412.5 L340.05,412.5 L341.26,412.5 L342.47,412.5 L343.68,412.5 L344.88,412.5 L346.09,412.5 L347.3,412.5" fill="none" stroke="#c8281e" stroke-width="1.4"/>
<clipPath id="c49"><rect x="49.3" y="251.4" width="298" height="160.4"/></clipPath>
<g clip-path="url(#c49)">
<circle cx="56.8" cy="257.4" r="1.65" fill="none" stroke="#2a2a2a" stroke-width="0.85"/>
<circle cx="56.5" cy="271.8" r="1.65" fill="none" stroke="#2a2a2a" stroke-width="0.85"/>
<circle cx="56.5" cy="281.7" r="1.65" fill="none" stroke="#2a2a2a" stroke-width="0.85"/>
<circle cx="64" cy="291.6" r="1.65" fill="none" stroke="#2a2a2a" stroke-width="0.85"/>
<circle cx="64" cy="296.6" r="1.65" fill="none" stroke="#2a2a2a" stroke-width="0.85"/>
<circle cx="71.5" cy="301.7" r="1.65" fill="none" stroke="#2a2a2a" stroke-width="0.85"/>
<circle cx="71.5" cy="306.8" r="1.65" fill="none" stroke="#2a2a2a" stroke-width="0.85"/>
<circle cx="78.9" cy="336.9" r="1.65" fill="none" stroke="#2a2a2a" stroke-width="0.85"/>
<circle cx="86.5" cy="346.7" r="1.65" fill="none" stroke="#2a2a2a" stroke-width="0.85"/>
<circle cx="86.5" cy="351.9" r="1.65" fill="none" stroke="#2a2a2a" stroke-width="0.85"/>
<circle cx="86.5" cy="356.9" r="1.65" fill="none" stroke="#2a2a2a" stroke-width="0.85"/>
<circle cx="93.8" cy="362" r="1.65" fill="none" stroke="#2a2a2a" stroke-width="0.85"/>
<circle cx="93.8" cy="377.1" r="1.65" fill="none" stroke="#2a2a2a" stroke-width="0.85"/>
<circle cx="101.3" cy="387.1" r="1.65" fill="none" stroke="#2a2a2a" stroke-width="0.85"/>
<circle cx="116" cy="397.1" r="1.65" fill="none" stroke="#2a2a2a" stroke-width="0.85"/>
<circle cx="138.6" cy="407.2" r="1.65" fill="none" stroke="#2a2a2a" stroke-width="0.85"/>
<circle cx="183.1" cy="411.1" r="1.65" fill="none" stroke="#2a2a2a" stroke-width="0.85"/>
</g>
<text x="39.4" y="253.85" font-size="7.8" text-anchor="end" fill="#444" textLength="10.1" lengthAdjust="spacingAndGlyphs" >1.0</text>
<text x="39.4" y="334.4" font-size="7.8" text-anchor="end" fill="#444" textLength="10.1" lengthAdjust="spacingAndGlyphs" >0.5</text>
<text x="39.4" y="414.95" font-size="7.8" text-anchor="end" fill="#444" textLength="10.1" lengthAdjust="spacingAndGlyphs" >0.0</text>
<text x="49.3" y="427.8" font-size="7.3" text-anchor="middle" fill="#444" >0</text>
<text x="123.8" y="427.8" font-size="7.3" text-anchor="middle" fill="#444" >2</text>
<text x="198.3" y="427.8" font-size="7.3" text-anchor="middle" fill="#444" >4</text>
<text x="272.8" y="427.8" font-size="7.3" text-anchor="middle" fill="#444" >6</text>
<text x="347.3" y="427.8" font-size="7.3" text-anchor="middle" fill="#444" >8</text>
<text x="199.1" y="444.1" font-size="9.6" text-anchor="middle" textLength="123.3" lengthAdjust="spacingAndGlyphs" >Mean Normalized Repose Time</text>
<text x="270.1" y="280.7" font-size="8.6" text-anchor="middle" >p</text>
<text x="315" y="281.3" font-size="8.6" text-anchor="middle" >AIC</text>
<text x="227.8" y="295.2" font-size="8.6" >Exp.</text>
<text x="270.1" y="295.2" font-size="8.6" text-anchor="middle" fill="#2a2a2a" font-weight="bold" >0.37</text>
<text x="315" y="295.2" font-size="8.6" text-anchor="middle" >232</text>
<text x="227.8" y="310.8" font-size="8.6" >Wei.</text>
<text x="270.1" y="310.8" font-size="8.6" text-anchor="middle" fill="#2a2a2a" font-weight="bold" >0.16</text>
<text x="315" y="310.8" font-size="8.6" text-anchor="middle" fill="#2a2a2a" font-weight="bold" >230</text>
<text x="227.8" y="326.7" font-size="8.6" >Log.</text>
<text x="270.1" y="326.7" font-size="8.6" text-anchor="middle" >0.02</text>
<text x="315" y="326.7" font-size="8.6" text-anchor="middle" >231</text>
<path d="M378.8,249.3 L378.99,249.3 L379.01,249.3 L379.05,249.3 L379.08,249.3 L379.13,249.3 L379.18,249.3 L379.24,249.3 L379.3,249.3 L379.38,249.3 L379.46,249.3 L379.57,249.3 L379.68,249.3 L379.82,249.3 L379.97,249.3 L380.15,249.3 L380.35,249.3 L380.59,249.3 L380.86,249.31 L381.17,249.31 L381.53,249.33 L381.94,249.37 L382.42,249.44 L382.97,249.58 L383.6,249.81 L384.33,250.2 L385.16,250.84 L386.13,251.81 L387.24,253.24 L388.52,255.29 L389.99,258.08 L390.37,258.85 L391.68,261.72 L392.99,264.82 L394.3,268.08 L395.61,271.45 L396.92,274.89 L398.23,278.37 L399.54,281.87 L400.85,285.35 L402.16,288.8 L403.47,292.21 L404.78,295.57 L406.09,298.87 L407.4,302.1 L408.71,305.26 L410.02,308.35 L411.33,311.37 L412.64,314.3 L413.95,317.17 L415.26,319.95 L416.57,322.66 L417.88,325.3 L419.19,327.86 L420.5,330.35 L421.81,332.77 L423.12,335.13 L424.43,337.42 L425.74,339.64 L427.05,341.8 L428.36,343.9 L429.67,345.94 L430.98,347.92 L432.29,349.85 L433.6,351.72 L434.91,353.54 L436.22,355.31 L437.53,357.03 L438.84,358.7 L440.15,360.32 L441.46,361.9 L442.77,363.43 L444.08,364.92 L445.39,366.37 L446.7,367.78 L448.01,369.15 L449.32,370.48 L450.63,371.77 L451.94,373.03 L453.25,374.25 L454.56,375.44 L455.87,376.59 L457.18,377.71 L458.49,378.8 L459.8,379.86 L461.11,380.89 L462.42,381.89 L463.73,382.85 L465.04,383.8 L466.35,384.71 L467.66,385.6 L468.97,386.46 L470.28,387.3 L471.59,388.11 L472.9,388.9 L474.21,389.67 L475.52,390.41 L476.83,391.13 L478.14,391.83 L479.45,392.5 L480.76,393.16 L482.07,393.8 L483.38,394.41 L484.69,395.01 L486,395.59 L487.31,396.15 L488.62,396.69 L489.93,397.22 L491.24,397.73 L492.55,398.22 L493.86,398.7 L495.17,399.16 L496.48,399.61 L497.8,400.04 L499.11,400.45 L500.42,400.86 L501.73,401.24 L503.04,401.62 L504.35,401.98 L505.66,402.33 L506.97,402.67 L508.28,403 L509.59,403.31 L510.9,403.61 L512.21,403.91 L513.52,404.19 L514.83,404.46 L516.14,404.72 L517.45,404.97 L518.76,405.22 L520.07,405.45 L521.38,405.67 L522.69,405.89 L524,406.09 L525.31,406.29 L526.62,406.48 L527.93,406.67 L529.24,406.84 L530.55,407.01 L531.86,407.18 L533.17,407.33 L534.48,407.48 L535.79,407.62 L537.1,407.76 L538.41,407.89 L539.72,408.02 L541.03,408.14 L542.34,408.25 L543.65,408.36 L544.96,408.47 L546.27,408.57 L547.58,408.66 L548.89,408.75 L550.2,408.84 L551.51,408.92 L552.82,409 L554.13,409.08 L555.44,409.15 L556.75,409.22 L558.06,409.28 L559.37,409.35 L560.68,409.41 L561.99,409.46 L563.3,409.52 L564.61,409.57 L565.92,409.61 L567.23,409.66 L568.54,409.7 L569.85,409.74 L571.16,409.78 L572.47,409.82 L573.78,409.86 L575.09,409.89 L576.4,409.92 L577.71,409.95 L579.02,409.98 L580.33,410 L581.64,410.03 L582.95,410.05 L584.26,410.07 L585.57,410.09 L586.88,410.11 L588.19,410.13 L589.5,410.15 L590.81,410.17 L592.12,410.18 L593.43,410.2 L594.74,410.21 L596.05,410.22 L597.36,410.24 L598.67,410.25 L599.98,410.26 L601.29,410.27 L602.6,410.28 L603.91,410.29 L605.22,410.29 L606.53,410.3 L607.84,410.31 L609.15,410.32 L610.46,410.32 L611.77,410.33 L613.08,410.33 L614.39,410.34 L615.7,410.34 L617.01,410.35 L618.33,410.35 L619.64,410.35 L620.95,410.36 L622.26,410.36 L623.57,410.36 L624.88,410.37 L626.19,410.37 L627.5,410.37 L628.81,410.37 L630.12,410.38 L631.43,410.38 L632.74,410.38 L634.05,410.38 L635.36,410.38 L636.67,410.38 L637.98,410.39 L639.29,410.39 L640.6,410.39 L641.91,410.39 L643.22,410.39 L644.53,410.39 L645.84,410.39 L647.15,410.39 L648.46,410.39 L649.77,410.39 L651.08,410.39 L652.39,410.39 L653.7,410.4 L655.01,410.4 L656.32,410.4 L657.63,410.4 L658.94,410.4 L660.25,410.4 L661.56,410.4 L662.87,410.4 L664.18,410.4 L665.49,410.4 L666.8,410.4 L668.11,410.4 L669.42,410.4 L670.73,410.4 L672.04,410.4 L673.35,410.4 L674.66,410.4 L675.97,410.4 L677.28,410.4 L677.3,410.4 L677.28,410.4 L675.97,410.4 L674.66,410.4 L673.35,410.4 L672.04,410.4 L670.73,410.4 L669.42,410.4 L668.11,410.4 L666.8,410.4 L665.49,410.4 L664.18,410.4 L662.87,410.4 L661.56,410.4 L660.25,410.4 L658.94,410.4 L657.63,410.4 L656.32,410.4 L655.01,410.4 L653.7,410.4 L652.39,410.4 L651.08,410.4 L649.77,410.4 L648.46,410.4 L647.15,410.4 L645.84,410.4 L644.53,410.4 L643.22,410.4 L641.91,410.4 L640.6,410.4 L639.29,410.4 L637.98,410.4 L636.67,410.4 L635.36,410.4 L634.05,410.4 L632.74,410.4 L631.43,410.4 L630.12,410.4 L628.81,410.4 L627.5,410.4 L626.19,410.4 L624.88,410.4 L623.57,410.4 L622.26,410.4 L620.95,410.4 L619.64,410.4 L618.33,410.4 L617.01,410.4 L615.7,410.4 L614.39,410.4 L613.08,410.4 L611.77,410.4 L610.46,410.4 L609.15,410.4 L607.84,410.4 L606.53,410.4 L605.22,410.4 L603.91,410.4 L602.6,410.4 L601.29,410.4 L599.98,410.4 L598.67,410.4 L597.36,410.4 L596.05,410.4 L594.74,410.4 L593.43,410.4 L592.12,410.4 L590.81,410.4 L589.5,410.4 L588.19,410.4 L586.88,410.4 L585.57,410.4 L584.26,410.4 L582.95,410.4 L581.64,410.4 L580.33,410.4 L579.02,410.4 L577.71,410.4 L576.4,410.4 L575.09,410.4 L573.78,410.4 L572.47,410.4 L571.16,410.4 L569.85,410.4 L568.54,410.4 L567.23,410.4 L565.92,410.4 L564.61,410.4 L563.3,410.4 L561.99,410.4 L560.68,410.4 L559.37,410.4 L558.06,410.4 L556.75,410.4 L555.44,410.4 L554.13,410.4 L552.82,410.4 L551.51,410.4 L550.2,410.4 L548.89,410.4 L547.58,410.4 L546.27,410.4 L544.96,410.4 L543.65,410.4 L542.34,410.4 L541.03,410.4 L539.72,410.4 L538.41,410.4 L537.1,410.4 L535.79,410.4 L534.48,410.4 L533.17,410.4 L531.86,410.4 L530.55,410.4 L529.24,410.4 L527.93,410.4 L526.62,410.4 L525.31,410.4 L524,410.4 L522.69,410.4 L521.38,410.4 L520.07,410.4 L518.76,410.4 L517.45,410.4 L516.14,410.4 L514.83,410.4 L513.52,410.4 L512.21,410.4 L510.9,410.4 L509.59,410.39 L508.28,410.39 L506.97,410.39 L505.66,410.39 L504.35,410.39 L503.04,410.39 L501.73,410.38 L500.42,410.38 L499.11,410.38 L497.8,410.37 L496.48,410.36 L495.17,410.36 L493.86,410.35 L492.55,410.34 L491.24,410.33 L489.93,410.32 L488.62,410.3 L487.31,410.28 L486,410.26 L484.69,410.24 L483.38,410.21 L482.07,410.18 L480.76,410.15 L479.45,410.11 L478.14,410.06 L476.83,410.01 L475.52,409.95 L474.21,409.88 L472.9,409.8 L471.59,409.72 L470.28,409.62 L468.97,409.51 L467.66,409.38 L466.35,409.24 L465.04,409.09 L463.73,408.91 L462.42,408.72 L461.11,408.5 L459.8,408.26 L458.49,408 L457.18,407.7 L455.87,407.38 L454.56,407.02 L453.25,406.62 L451.94,406.19 L450.63,405.72 L449.32,405.2 L448.01,404.64 L446.7,404.03 L445.39,403.36 L444.08,402.64 L442.77,401.85 L441.46,401.01 L440.15,400.09 L438.84,399.11 L437.53,398.06 L436.22,396.92 L434.91,395.71 L433.6,394.41 L432.29,393.03 L430.98,391.56 L429.67,389.99 L428.36,388.33 L427.05,386.57 L425.74,384.7 L424.43,382.74 L423.12,380.66 L421.81,378.48 L420.5,376.19 L419.19,373.79 L417.88,371.27 L416.57,368.64 L415.26,365.9 L413.95,363.05 L412.64,360.08 L411.33,356.99 L410.02,353.8 L408.71,350.49 L407.4,347.08 L406.09,343.56 L404.78,339.94 L403.47,336.21 L402.16,332.38 L400.85,328.46 L399.54,324.45 L398.23,320.35 L396.92,316.17 L395.61,311.91 L394.3,307.57 L392.99,303.16 L391.68,298.68 L390.37,294.14 L389.99,292.83 L388.52,287.61 L387.24,283.01 L386.13,278.95 L385.16,275.37 L384.33,272.21 L383.6,269.42 L382.97,266.95 L382.42,264.77 L381.94,262.83 L381.53,261.12 L381.17,259.6 L380.86,258.25 L380.59,257.06 L380.35,256 L380.15,255.07 L379.97,254.24 L379.82,253.52 L379.68,252.88 L379.57,252.32 L379.46,251.83 L379.38,251.41 L379.3,251.05 L379.24,250.74 L379.18,250.47 L379.13,250.25 L379.08,250.06 L379.05,249.91 L379.01,249.78 L378.99,249.67 Z" fill="#f7e1df"/>
<line x1="373.8" y1="249.3" x2="677.3" y2="249.3" stroke="#7a7a7a" stroke-width="1.05" />
<line x1="373.8" y1="410.4" x2="681.8" y2="410.4" stroke="#7a7a7a" stroke-width="1.05" />
<line x1="378.8" y1="244.8" x2="378.8" y2="415.4" stroke="#cfcfcf" stroke-width="1.4" />
<line x1="677.3" y1="244.8" x2="677.3" y2="415.4" stroke="#8a8a8a" stroke-width="1.05" />
<line x1="373.8" y1="329.85" x2="378.8" y2="329.85" stroke="#777" stroke-width="1" />
<line x1="677.3" y1="329.85" x2="681.8" y2="329.85" stroke="#777" stroke-width="1" />
<line x1="373.8" y1="249.3" x2="378.8" y2="249.3" stroke="#777" stroke-width="1" />
<line x1="677.3" y1="249.3" x2="681.8" y2="249.3" stroke="#777" stroke-width="1" />
<line x1="453.42" y1="244.8" x2="453.42" y2="249.3" stroke="#777" stroke-width="1" />
<line x1="453.42" y1="410.4" x2="453.42" y2="415.4" stroke="#777" stroke-width="1" />
<line x1="528.04" y1="244.8" x2="528.04" y2="249.3" stroke="#777" stroke-width="1" />
<line x1="528.04" y1="410.4" x2="528.04" y2="415.4" stroke="#777" stroke-width="1" />
<line x1="602.66" y1="244.8" x2="602.66" y2="249.3" stroke="#777" stroke-width="1" />
<line x1="602.66" y1="410.4" x2="602.66" y2="415.4" stroke="#777" stroke-width="1" />
<path d="M378.8,249.3 L386.26,262.47 L388.13,267.15 L389.34,270.33 L390.55,273.59 L391.76,276.92 L392.97,280.3 L394.18,283.72 L395.39,287.17 L396.6,290.62 L397.81,294.08 L399.02,297.53 L400.23,300.97 L401.44,304.38 L402.65,307.76 L403.86,311.1 L405.07,314.41 L406.28,317.66 L407.48,320.87 L408.69,324.02 L409.9,327.11 L411.11,330.14 L412.32,333.11 L413.53,336.01 L414.74,338.85 L415.95,341.62 L417.16,344.31 L418.37,346.94 L419.58,349.49 L420.79,351.97 L422,354.38 L423.21,356.72 L424.42,358.99 L425.63,361.19 L426.84,363.31 L428.05,365.37 L429.26,367.35 L430.47,369.27 L431.68,371.12 L432.89,372.91 L434.1,374.63 L435.31,376.28 L436.52,377.88 L437.73,379.41 L438.94,380.88 L440.15,382.3 L441.36,383.66 L442.57,384.96 L443.78,386.21 L444.99,387.41 L446.2,388.55 L447.41,389.65 L448.62,390.7 L449.83,391.71 L451.04,392.67 L452.25,393.59 L453.46,394.46 L454.67,395.3 L455.88,396.1 L457.09,396.86 L458.3,397.58 L459.51,398.27 L460.72,398.93 L461.93,399.56 L463.14,400.15 L464.35,400.72 L465.56,401.26 L466.77,401.77 L467.98,402.25 L469.19,402.71 L470.4,403.15 L471.61,403.56 L472.82,403.96 L474.03,404.33 L475.24,404.68 L476.45,405.02 L477.66,405.33 L478.87,405.63 L480.08,405.91 L481.29,406.18 L482.5,406.43 L483.71,406.67 L484.91,406.9 L486.12,407.11 L487.33,407.31 L488.54,407.5 L489.75,407.68 L490.96,407.85 L492.17,408.01 L493.38,408.16 L494.59,408.3 L495.8,408.43 L497.01,408.56 L498.22,408.67 L499.43,408.78 L500.64,408.89 L501.85,408.98 L503.06,409.08 L504.27,409.16 L505.48,409.24 L506.69,409.32 L507.9,409.39 L509.11,409.46 L510.32,409.52 L511.53,409.58 L512.74,409.63 L513.95,409.68 L515.16,409.73 L516.37,409.78 L517.58,409.82 L518.79,409.86 L520,409.9 L521.21,409.93 L522.42,409.96 L523.63,409.99 L524.84,410.02 L526.05,410.05 L527.26,410.07 L528.47,410.09 L529.68,410.12 L530.89,410.14 L532.1,410.15 L533.31,410.17 L534.52,410.19 L535.73,410.2 L536.94,410.22 L538.15,410.23 L539.36,410.24 L540.57,410.25 L541.78,410.26 L542.99,410.27 L544.2,410.28 L545.41,410.29 L546.62,410.3 L547.83,410.31 L549.04,410.31 L550.25,410.32 L551.46,410.33 L552.67,410.33 L553.88,410.34 L555.09,410.34 L556.3,410.35 L557.51,410.35 L558.72,410.35 L559.93,410.36 L561.14,410.36 L562.34,410.36 L563.55,410.37 L564.76,410.37 L565.97,410.37 L567.18,410.37 L568.39,410.38 L569.6,410.38 L570.81,410.38 L572.02,410.38 L573.23,410.38 L574.44,410.38 L575.65,410.39 L576.86,410.39 L578.07,410.39 L579.28,410.39 L580.49,410.39 L581.7,410.39 L582.91,410.39 L584.12,410.39 L585.33,410.39 L586.54,410.39 L587.75,410.39 L588.96,410.39 L590.17,410.39 L591.38,410.39 L592.59,410.4 L593.8,410.4 L595.01,410.4 L596.22,410.4 L597.43,410.4 L598.64,410.4 L599.85,410.4 L601.06,410.4 L602.27,410.4 L603.48,410.4 L604.69,410.4 L605.9,410.4 L607.11,410.4 L608.32,410.4 L609.53,410.4 L610.74,410.4 L611.95,410.4 L613.16,410.4 L614.37,410.4 L615.58,410.4 L616.79,410.4 L618,410.4 L619.21,410.4 L620.42,410.4 L621.63,410.4 L622.84,410.4 L624.05,410.4 L625.26,410.4 L626.47,410.4 L627.68,410.4 L628.89,410.4 L630.1,410.4 L631.31,410.4 L632.52,410.4 L633.73,410.4 L634.94,410.4 L636.15,410.4 L637.36,410.4 L638.57,410.4 L639.77,410.4 L640.98,410.4 L642.19,410.4 L643.4,410.4 L644.61,410.4 L645.82,410.4 L647.03,410.4 L648.24,410.4 L649.45,410.4 L650.66,410.4 L651.87,410.4 L653.08,410.4 L654.29,410.4 L655.5,410.4 L656.71,410.4 L657.92,410.4 L659.13,410.4 L660.34,410.4 L661.55,410.4 L662.76,410.4 L663.97,410.4 L665.18,410.4 L666.39,410.4 L667.6,410.4 L668.81,410.4 L670.02,410.4 L671.23,410.4 L672.44,410.4 L673.65,410.4 L674.86,410.4 L676.07,410.4 L677.28,410.4" fill="none" stroke="#c8281e" stroke-width="1.4"/>
<clipPath id="c378"><rect x="378.8" y="249.3" width="298.5" height="160.4"/></clipPath>
<g clip-path="url(#c378)">
<circle cx="386.3" cy="255.3" r="1.65" fill="none" stroke="#2a2a2a" stroke-width="0.85"/>
<circle cx="386" cy="269.7" r="1.65" fill="none" stroke="#2a2a2a" stroke-width="0.85"/>
<circle cx="386" cy="279.6" r="1.65" fill="none" stroke="#2a2a2a" stroke-width="0.85"/>
<circle cx="393.5" cy="289.5" r="1.65" fill="none" stroke="#2a2a2a" stroke-width="0.85"/>
<circle cx="393.5" cy="294.5" r="1.65" fill="none" stroke="#2a2a2a" stroke-width="0.85"/>
<circle cx="401" cy="299.6" r="1.65" fill="none" stroke="#2a2a2a" stroke-width="0.85"/>
<circle cx="401" cy="304.7" r="1.65" fill="none" stroke="#2a2a2a" stroke-width="0.85"/>
<circle cx="408.4" cy="334.8" r="1.65" fill="none" stroke="#2a2a2a" stroke-width="0.85"/>
<circle cx="416" cy="344.6" r="1.65" fill="none" stroke="#2a2a2a" stroke-width="0.85"/>
<circle cx="416" cy="349.8" r="1.65" fill="none" stroke="#2a2a2a" stroke-width="0.85"/>
<circle cx="416" cy="354.8" r="1.65" fill="none" stroke="#2a2a2a" stroke-width="0.85"/>
<circle cx="423.3" cy="359.9" r="1.65" fill="none" stroke="#2a2a2a" stroke-width="0.85"/>
<circle cx="423.3" cy="375" r="1.65" fill="none" stroke="#2a2a2a" stroke-width="0.85"/>
<circle cx="430.8" cy="385" r="1.65" fill="none" stroke="#2a2a2a" stroke-width="0.85"/>
<circle cx="445.5" cy="395" r="1.65" fill="none" stroke="#2a2a2a" stroke-width="0.85"/>
<circle cx="468.1" cy="405.1" r="1.65" fill="none" stroke="#2a2a2a" stroke-width="0.85"/>
<circle cx="512.8" cy="409.5" r="1.65" fill="none" stroke="#2a2a2a" stroke-width="0.85"/>
</g>
<text x="368.9" y="251.75" font-size="7.8" text-anchor="end" fill="#444" textLength="10.1" lengthAdjust="spacingAndGlyphs" >1.0</text>
<text x="368.9" y="332.3" font-size="7.8" text-anchor="end" fill="#444" textLength="10.1" lengthAdjust="spacingAndGlyphs" >0.5</text>
<text x="368.9" y="412.85" font-size="7.8" text-anchor="end" fill="#444" textLength="10.1" lengthAdjust="spacingAndGlyphs" >0.0</text>
<text x="378.8" y="425.7" font-size="7.3" text-anchor="middle" fill="#444" >0</text>
<text x="453.42" y="425.7" font-size="7.3" text-anchor="middle" fill="#444" >2</text>
<text x="528.04" y="425.7" font-size="7.3" text-anchor="middle" fill="#444" >4</text>
<text x="602.66" y="425.7" font-size="7.3" text-anchor="middle" fill="#444" >6</text>
<text x="677.28" y="425.7" font-size="7.3" text-anchor="middle" fill="#444" >8</text>
<text x="528.6" y="442" font-size="9.6" text-anchor="middle" textLength="123.3" lengthAdjust="spacingAndGlyphs" >Mean Normalized Repose Time</text>
<text x="600" y="278.4" font-size="8.6" text-anchor="middle" >p</text>
<text x="645" y="279" font-size="8.6" text-anchor="middle" >AIC</text>
<text x="557.9" y="293" font-size="8.6" >Exp.</text>
<text x="600" y="293" font-size="8.6" text-anchor="middle" fill="#2a2a2a" font-weight="bold" >0.31</text>
<text x="645" y="293" font-size="8.6" text-anchor="middle" >175</text>
<text x="557.9" y="308.6" font-size="8.6" >Wei.</text>
<text x="600" y="308.6" font-size="8.6" text-anchor="middle" fill="#2a2a2a" font-weight="bold" >0.06</text>
<text x="645" y="308.6" font-size="8.6" text-anchor="middle" fill="#2a2a2a" font-weight="bold" >170</text>
<text x="557.9" y="324.6" font-size="8.6" >Log.</text>
<text x="600" y="324.6" font-size="8.6" text-anchor="middle" >0.03</text>
<text x="645" y="324.6" font-size="8.6" text-anchor="middle" >173</text>
<line x1="43.9" y1="455.2" x2="347.4" y2="455.2" stroke="#7c7c7c" stroke-width="1.1" />
<line x1="43.9" y1="552.4" x2="352.4" y2="552.4" stroke="#8a8a8a" stroke-width="1.1" />
<line x1="48.9" y1="455.2" x2="48.9" y2="557.4" stroke="#c4c4c4" stroke-width="1.1" />
<line x1="347.4" y1="455.2" x2="347.4" y2="557.4" stroke="#8a8a8a" stroke-width="1.1" />
<line x1="43.9" y1="520" x2="48.9" y2="520" stroke="#777" stroke-width="1" />
<line x1="347.4" y1="520" x2="352.4" y2="520" stroke="#777" stroke-width="1" />
<line x1="43.9" y1="487.6" x2="48.9" y2="487.6" stroke="#777" stroke-width="1" />
<line x1="347.4" y1="487.6" x2="352.4" y2="487.6" stroke="#777" stroke-width="1" />
<line x1="108.6" y1="552.4" x2="108.6" y2="557.4" stroke="#777" stroke-width="1" />
<line x1="168.3" y1="552.4" x2="168.3" y2="557.4" stroke="#777" stroke-width="1" />
<line x1="228" y1="552.4" x2="228" y2="557.4" stroke="#777" stroke-width="1" />
<line x1="287.7" y1="552.4" x2="287.7" y2="557.4" stroke="#777" stroke-width="1" />
<path d="M48.9,552.4 L48.91,548.92 L48.91,548.82 L48.91,548.71 L48.91,548.6 L48.91,548.49 L48.91,548.37 L48.91,548.25 L48.91,548.13 L48.92,548 L48.92,547.87 L48.92,547.73 L48.92,547.59 L48.92,547.45 L48.93,547.3 L48.93,547.14 L48.93,546.99 L48.94,546.82 L48.94,546.66 L48.95,546.48 L48.96,546.31 L48.96,546.12 L48.97,545.94 L48.98,545.74 L48.99,545.54 L49,545.34 L49.01,545.13 L49.03,544.91 L49.04,544.68 L49.06,544.45 L49.08,544.21 L49.1,543.97 L49.13,543.71 L49.15,543.45 L49.18,543.18 L49.22,542.91 L49.26,542.62 L49.3,542.33 L49.35,542.03 L49.41,541.72 L49.47,541.4 L49.55,541.07 L49.63,540.73 L49.72,540.38 L49.82,540.02 L49.93,539.65 L50.06,539.26 L50.2,538.87 L50.36,538.46 L50.55,538.04 L50.75,537.61 L50.98,537.17 L51.24,536.71 L51.53,536.24 L51.86,535.76 L52.22,535.26 L52.64,534.75 L53.1,534.22 L53.62,533.67 L54.21,533.11 L54.87,532.53 L56.34,531.4 L57.81,530.42 L59.28,529.55 L60.75,528.78 L62.22,528.07 L63.69,527.42 L65.16,526.81 L66.63,526.25 L68.1,525.72 L69.57,525.22 L71.04,524.74 L72.51,524.29 L73.98,523.86 L75.45,523.44 L76.92,523.05 L78.39,522.66 L79.86,522.3 L81.33,521.94 L82.8,521.6 L84.27,521.27 L85.74,520.95 L87.21,520.63 L88.68,520.33 L90.15,520.04 L91.62,519.75 L93.09,519.47 L94.56,519.2 L96.03,518.93 L97.5,518.67 L98.97,518.41 L100.44,518.16 L101.91,517.92 L103.38,517.68 L104.85,517.45 L106.32,517.22 L107.79,516.99 L109.26,516.77 L110.73,516.56 L112.2,516.34 L113.67,516.13 L115.14,515.93 L116.61,515.72 L118.08,515.52 L119.55,515.33 L121.02,515.14 L122.49,514.94 L123.96,514.76 L125.43,514.57 L126.9,514.39 L128.37,514.21 L129.84,514.03 L131.31,513.86 L132.78,513.69 L134.25,513.52 L135.72,513.35 L137.19,513.18 L138.66,513.02 L140.13,512.86 L141.6,512.7 L143.07,512.54 L144.54,512.38 L146.01,512.23 L147.48,512.08 L148.95,511.93 L150.42,511.78 L151.89,511.63 L153.36,511.48 L154.83,511.34 L156.3,511.19 L157.77,511.05 L159.24,510.91 L160.71,510.77 L162.18,510.64 L163.65,510.5 L165.12,510.37 L166.59,510.23 L168.06,510.1 L169.53,509.97 L171,509.84 L172.47,509.71 L173.94,509.58 L175.41,509.46 L176.88,509.33 L178.35,509.21 L179.82,509.08 L181.29,508.96 L182.76,508.84 L184.23,508.72 L185.7,508.6 L187.17,508.48 L188.64,508.36 L190.11,508.25 L191.58,508.13 L193.05,508.02 L194.52,507.9 L195.99,507.79 L197.46,507.68 L198.93,507.57 L200.4,507.46 L201.87,507.35 L203.34,507.24 L204.81,507.13 L206.28,507.02 L207.75,506.92 L209.22,506.81 L210.69,506.71 L212.16,506.6 L213.63,506.5 L215.1,506.39 L216.57,506.29 L218.04,506.19 L219.51,506.09 L220.98,505.99 L222.45,505.89 L223.92,505.79 L225.39,505.69 L226.86,505.59 L228.33,505.5 L229.8,505.4 L231.27,505.3 L232.74,505.21 L234.21,505.11 L235.68,505.02 L237.15,504.92 L238.62,504.83 L240.09,504.74 L241.56,504.65 L243.03,504.55 L244.5,504.46 L245.97,504.37 L247.44,504.28 L248.91,504.19 L250.38,504.1 L251.85,504.01 L253.32,503.93 L254.79,503.84 L256.26,503.75 L257.73,503.66 L259.2,503.58 L260.67,503.49 L262.14,503.41 L263.61,503.32 L265.08,503.24 L266.55,503.15 L268.02,503.07 L269.49,502.99 L270.96,502.9 L272.43,502.82 L273.9,502.74 L275.37,502.66 L276.84,502.58 L278.31,502.49 L279.78,502.41 L281.25,502.33 L282.72,502.25 L284.19,502.18 L285.66,502.1 L287.13,502.02 L288.6,501.94 L290.07,501.86 L291.54,501.78 L293.01,501.71 L294.48,501.63 L295.95,501.55 L297.42,501.48 L298.89,501.4 L300.36,501.33 L301.83,501.25 L303.3,501.18 L304.77,501.1 L306.24,501.03 L307.71,500.95 L309.18,500.88 L310.65,500.81 L312.12,500.73 L313.59,500.66 L315.06,500.59 L316.53,500.52 L318,500.44 L319.47,500.37 L320.94,500.3 L322.41,500.23 L323.88,500.16 L325.35,500.09 L326.82,500.02 L328.29,499.95 L329.76,499.88 L331.23,499.81 L332.7,499.74 L334.17,499.67 L335.64,499.6 L337.11,499.54 L338.58,499.47 L340.05,499.4 L341.52,499.33 L342.99,499.27 L344.46,499.2 L345.93,499.13 L347.4,499.07" fill="none" stroke="#2f56b0" stroke-width="1.4"/>
<text x="39" y="457.65" font-size="7.8" text-anchor="end" fill="#444" textLength="10.1" lengthAdjust="spacingAndGlyphs" >0.6</text>
<text x="39" y="490.05" font-size="7.8" text-anchor="end" fill="#444" textLength="10.1" lengthAdjust="spacingAndGlyphs" >0.4</text>
<text x="39" y="522.45" font-size="7.8" text-anchor="end" fill="#444" textLength="10.1" lengthAdjust="spacingAndGlyphs" >0.2</text>
<text x="39" y="554.85" font-size="7.8" text-anchor="end" fill="#444" textLength="10.1" lengthAdjust="spacingAndGlyphs" >0.0</text>
<text x="48.9" y="569.4" font-size="7.3" text-anchor="middle" fill="#444" >0</text>
<text x="108.9" y="569.4" font-size="7.3" text-anchor="middle" fill="#444" >10</text>
<text x="169.6" y="569.4" font-size="7.3" text-anchor="middle" fill="#444" >20</text>
<text x="228" y="569.4" font-size="7.3" text-anchor="middle" fill="#444" >30</text>
<text x="288.7" y="569.4" font-size="7.3" text-anchor="middle" fill="#444" >40</text>
<text x="346.6" y="569.4" font-size="7.3" text-anchor="middle" fill="#444" >50</text>
<text x="201.2" y="588.3" font-size="9.6" text-anchor="middle" textLength="153" lengthAdjust="spacingAndGlyphs" >Years since last debris-flow occurrence</text>
<line x1="374.7" y1="455.1" x2="677.4" y2="455.1" stroke="#b4b4b4" stroke-width="1.1" />
<line x1="374.7" y1="552.2" x2="682.4" y2="552.2" stroke="#b8b8b8" stroke-width="1.1" />
<line x1="379.7" y1="455.1" x2="379.7" y2="557.2" stroke="#6e6e6e" stroke-width="1.1" />
<line x1="677.4" y1="455.1" x2="677.4" y2="557.2" stroke="#8a8a8a" stroke-width="1.1" />
<line x1="374.7" y1="519.83" x2="379.7" y2="519.83" stroke="#777" stroke-width="1" />
<line x1="677.4" y1="519.83" x2="682.4" y2="519.83" stroke="#777" stroke-width="1" />
<line x1="374.7" y1="487.47" x2="379.7" y2="487.47" stroke="#777" stroke-width="1" />
<line x1="677.4" y1="487.47" x2="682.4" y2="487.47" stroke="#777" stroke-width="1" />
<line x1="439.24" y1="552.2" x2="439.24" y2="557.2" stroke="#777" stroke-width="1" />
<line x1="498.78" y1="552.2" x2="498.78" y2="557.2" stroke="#777" stroke-width="1" />
<line x1="558.32" y1="552.2" x2="558.32" y2="557.2" stroke="#777" stroke-width="1" />
<line x1="617.86" y1="552.2" x2="617.86" y2="557.2" stroke="#777" stroke-width="1" />
<path d="M379.7,552.2 L379.71,552.2 L379.71,552.19 L379.71,552.19 L379.71,552.19 L379.71,552.19 L379.71,552.18 L379.71,552.18 L379.71,552.17 L379.72,552.17 L379.72,552.16 L379.72,552.15 L379.72,552.14 L379.72,552.13 L379.73,552.11 L379.73,552.09 L379.73,552.07 L379.74,552.05 L379.74,552.02 L379.75,551.98 L379.76,551.94 L379.76,551.9 L379.77,551.84 L379.78,551.78 L379.79,551.71 L379.8,551.64 L379.81,551.55 L379.82,551.45 L379.84,551.34 L379.86,551.22 L379.88,551.08 L379.9,550.93 L379.92,550.76 L379.95,550.57 L379.98,550.37 L380.02,550.14 L380.06,549.9 L380.1,549.64 L380.15,549.35 L380.21,549.04 L380.27,548.7 L380.34,548.34 L380.42,547.95 L380.51,547.54 L380.61,547.1 L380.73,546.63 L380.86,546.13 L381,545.59 L381.16,545.03 L381.34,544.44 L381.55,543.81 L381.78,543.15 L382.03,542.46 L382.32,541.73 L382.65,540.97 L383.02,540.17 L383.43,539.34 L383.89,538.47 L384.41,537.56 L385,536.61 L385.65,535.62 L387.12,533.65 L388.59,531.93 L390.05,530.38 L391.52,528.98 L392.98,527.68 L394.45,526.48 L395.92,525.35 L397.38,524.28 L398.85,523.28 L400.31,522.32 L401.78,521.4 L403.25,520.52 L404.71,519.68 L406.18,518.87 L407.64,518.08 L409.11,517.32 L410.58,516.58 L412.04,515.87 L413.51,515.17 L414.98,514.49 L416.44,513.83 L417.91,513.19 L419.37,512.55 L420.84,511.94 L422.31,511.33 L423.77,510.74 L425.24,510.16 L426.7,509.59 L428.17,509.03 L429.64,508.48 L431.1,507.93 L432.57,507.4 L434.03,506.88 L435.5,506.36 L436.97,505.85 L438.43,505.35 L439.9,504.85 L441.36,504.36 L442.83,503.88 L444.3,503.4 L445.76,502.93 L447.23,502.47 L448.69,502.01 L450.16,501.56 L451.63,501.11 L453.09,500.66 L454.56,500.22 L456.02,499.79 L457.49,499.35 L458.96,498.93 L460.42,498.51 L461.89,498.09 L463.36,497.67 L464.82,497.26 L466.29,496.85 L467.75,496.45 L469.22,496.05 L470.69,495.65 L472.15,495.26 L473.62,494.86 L475.08,494.48 L476.55,494.09 L478.02,493.71 L479.48,493.33 L480.95,492.95 L482.41,492.58 L483.88,492.21 L485.35,491.84 L486.81,491.47 L488.28,491.1 L489.74,490.74 L491.21,490.38 L492.68,490.03 L494.14,489.67 L495.61,489.32 L497.07,488.97 L498.54,488.62 L500.01,488.27 L501.47,487.93 L502.94,487.58 L504.4,487.24 L505.87,486.9 L507.34,486.56 L508.8,486.23 L510.27,485.89 L511.74,485.56 L513.2,485.23 L514.67,484.9 L516.13,484.57 L517.6,484.25 L519.07,483.92 L520.53,483.6 L522,483.28 L523.46,482.96 L524.93,482.64 L526.4,482.33 L527.86,482.01 L529.33,481.7 L530.79,481.38 L532.26,481.07 L533.73,480.76 L535.19,480.45 L536.66,480.14 L538.12,479.84 L539.59,479.53 L541.06,479.23 L542.52,478.93 L543.99,478.62 L545.45,478.32 L546.92,478.02 L548.39,477.72 L549.85,477.43 L551.32,477.13 L552.78,476.84 L554.25,476.54 L555.72,476.25 L557.18,475.96 L558.65,475.67 L560.12,475.38 L561.58,475.09 L563.05,474.8 L564.51,474.51 L565.98,474.22 L567.45,473.94 L568.91,473.65 L570.38,473.37 L571.84,473.09 L573.31,472.81 L574.78,472.53 L576.24,472.24 L577.71,471.97 L579.17,471.69 L580.64,471.41 L582.11,471.13 L583.57,470.86 L585.04,470.58 L586.5,470.31 L587.97,470.03 L589.44,469.76 L590.9,469.49 L592.37,469.22 L593.83,468.94 L595.3,468.67 L596.77,468.41 L598.23,468.14 L599.7,467.87 L601.16,467.6 L602.63,467.33 L604.1,467.07 L605.56,466.8 L607.03,466.54 L608.5,466.27 L609.96,466.01 L611.43,465.75 L612.89,465.49 L614.36,465.23 L615.83,464.96 L617.29,464.7 L618.76,464.44 L620.22,464.19 L621.69,463.93 L623.16,463.67 L624.62,463.41 L626.09,463.15 L627.55,462.9 L629.02,462.64 L630.49,462.39 L631.95,462.13 L633.42,461.88 L634.88,461.63 L636.35,461.37 L637.82,461.12 L639.28,460.87 L640.75,460.62 L642.21,460.37 L643.68,460.12 L645.15,459.87 L646.61,459.62 L648.08,459.37 L649.54,459.12 L651.01,458.87 L652.48,458.62 L653.94,458.38 L655.41,458.13 L656.88,457.88 L658.34,457.64 L659.81,457.39 L661.27,457.15 L662.74,456.9 L664.21,456.66 L665.67,456.42 L667.14,456.17 L668.6,455.93 L670.07,455.69 L671.54,455.45 L673,455.21 L674.47,454.97 L675.93,454.73 L677.4,454.49" fill="none" stroke="#2f56b0" stroke-width="1.4"/>
<text x="369.8" y="457.55" font-size="7.8" text-anchor="end" fill="#444" textLength="10.1" lengthAdjust="spacingAndGlyphs" >0.6</text>
<text x="369.8" y="489.92" font-size="7.8" text-anchor="end" fill="#444" textLength="10.1" lengthAdjust="spacingAndGlyphs" >0.4</text>
<text x="369.8" y="522.28" font-size="7.8" text-anchor="end" fill="#444" textLength="10.1" lengthAdjust="spacingAndGlyphs" >0.2</text>
<text x="369.8" y="554.65" font-size="7.8" text-anchor="end" fill="#444" textLength="10.1" lengthAdjust="spacingAndGlyphs" >0.0</text>
<text x="379.2" y="569.2" font-size="7.3" text-anchor="middle" fill="#444" >0</text>
<text x="439.24" y="569.2" font-size="7.3" text-anchor="middle" fill="#444" >10</text>
<text x="500.08" y="569.2" font-size="7.3" text-anchor="middle" fill="#444" >20</text>
<text x="558.82" y="569.2" font-size="7.3" text-anchor="middle" fill="#444" >30</text>
<text x="619.56" y="569.2" font-size="7.3" text-anchor="middle" fill="#444" >40</text>
<text x="677.4" y="569.2" font-size="7.3" text-anchor="middle" fill="#444" >50</text>
<text x="532" y="588.1" font-size="9.6" text-anchor="middle" textLength="153" lengthAdjust="spacingAndGlyphs" >Years since last debris-flow occurrence</text>
<text x="7.3" y="137.3" font-size="10" text-anchor="middle" fill="#444" textLength="109.5" lengthAdjust="spacingAndGlyphs" transform="rotate(-90 7.3 137.3)" >Debris-Flow occurrence rate</text>
<text x="16.8" y="137.5" font-size="10" text-anchor="middle" fill="#444" textLength="131" lengthAdjust="spacingAndGlyphs" transform="rotate(-90 16.8 137.5)" >(Number of debris flows per year)</text>
<text x="7.3" y="334.8" font-size="10" text-anchor="middle" fill="#444" textLength="125.8" lengthAdjust="spacingAndGlyphs" transform="rotate(-90 7.3 334.8)" >Exceedance Probability of mean</text>
<text x="17.7" y="334" font-size="10" text-anchor="middle" fill="#444" textLength="91.9" lengthAdjust="spacingAndGlyphs" transform="rotate(-90 17.7 334)" >normalized repose time</text>
<text x="6.6" y="510.2" font-size="10" text-anchor="middle" fill="#444" textLength="128" lengthAdjust="spacingAndGlyphs" transform="rotate(-90 6.6 510.2)" >Hazard (Instantaneous likelihood</text>
<text x="17.6" y="509.3" font-size="10" text-anchor="middle" fill="#444" textLength="101.3" lengthAdjust="spacingAndGlyphs" transform="rotate(-90 17.6 509.3)" >of debris-flow occurrence)</text>
</svg>
</body></html>
